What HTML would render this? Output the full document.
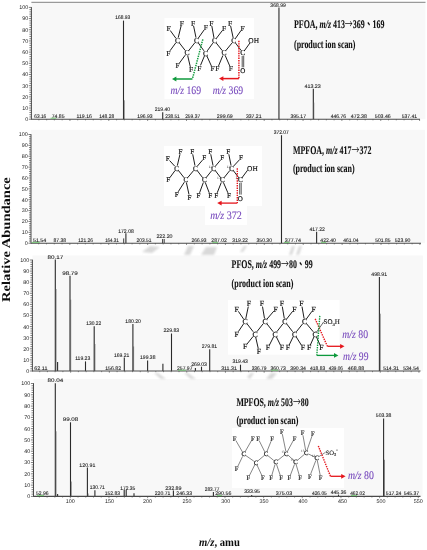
<!DOCTYPE html>
<html><head><meta charset="utf-8"><title>MS/MS product ion spectra</title>
<style>html,body{margin:0;padding:0;background:#fff;width:427px;height:550px;overflow:hidden}svg{display:block}</style>
</head><body>
<svg width="427" height="550" viewBox="0 0 427 550" text-rendering="geometricPrecision">
<rect x="0" y="0" width="427" height="550" fill="#ffffff"/>
<defs><filter id="soft" filterUnits="userSpaceOnUse" x="0" y="0" width="427" height="550"><feGaussianBlur stdDeviation="0.3"/></filter></defs>
<g filter="url(#soft)">
<rect x="31.4" y="2.3" width="394" height="116.9" fill="#f8f8f8"/>
<line x1="31.4" y1="2.4" x2="425.5" y2="2.4" stroke="#9a9a9a" stroke-width="1.2"/>
<rect x="164.5" y="18" width="89.5" height="81" fill="#ffffff"/>
<line x1="31.4" y1="7.1" x2="31.4" y2="119.7" stroke="#4a4a4a" stroke-width="1"/>
<line x1="28.8" y1="7.4" x2="31.4" y2="7.4" stroke="#4a4a4a" stroke-width="0.7"/>
<line x1="29.4" y1="9.64" x2="31.4" y2="9.64" stroke="#4a4a4a" stroke-width="0.7"/>
<line x1="29.4" y1="11.87" x2="31.4" y2="11.87" stroke="#4a4a4a" stroke-width="0.7"/>
<line x1="29.4" y1="14.11" x2="31.4" y2="14.11" stroke="#4a4a4a" stroke-width="0.7"/>
<line x1="29.4" y1="16.34" x2="31.4" y2="16.34" stroke="#4a4a4a" stroke-width="0.7"/>
<line x1="28.8" y1="18.58" x2="31.4" y2="18.58" stroke="#4a4a4a" stroke-width="0.7"/>
<line x1="29.4" y1="20.82" x2="31.4" y2="20.82" stroke="#4a4a4a" stroke-width="0.7"/>
<line x1="29.4" y1="23.05" x2="31.4" y2="23.05" stroke="#4a4a4a" stroke-width="0.7"/>
<line x1="29.4" y1="25.29" x2="31.4" y2="25.29" stroke="#4a4a4a" stroke-width="0.7"/>
<line x1="29.4" y1="27.52" x2="31.4" y2="27.52" stroke="#4a4a4a" stroke-width="0.7"/>
<line x1="28.8" y1="29.76" x2="31.4" y2="29.76" stroke="#4a4a4a" stroke-width="0.7"/>
<line x1="29.4" y1="32" x2="31.4" y2="32" stroke="#4a4a4a" stroke-width="0.7"/>
<line x1="29.4" y1="34.23" x2="31.4" y2="34.23" stroke="#4a4a4a" stroke-width="0.7"/>
<line x1="29.4" y1="36.47" x2="31.4" y2="36.47" stroke="#4a4a4a" stroke-width="0.7"/>
<line x1="29.4" y1="38.7" x2="31.4" y2="38.7" stroke="#4a4a4a" stroke-width="0.7"/>
<line x1="28.8" y1="40.94" x2="31.4" y2="40.94" stroke="#4a4a4a" stroke-width="0.7"/>
<line x1="29.4" y1="43.18" x2="31.4" y2="43.18" stroke="#4a4a4a" stroke-width="0.7"/>
<line x1="29.4" y1="45.41" x2="31.4" y2="45.41" stroke="#4a4a4a" stroke-width="0.7"/>
<line x1="29.4" y1="47.65" x2="31.4" y2="47.65" stroke="#4a4a4a" stroke-width="0.7"/>
<line x1="29.4" y1="49.88" x2="31.4" y2="49.88" stroke="#4a4a4a" stroke-width="0.7"/>
<line x1="28.8" y1="52.12" x2="31.4" y2="52.12" stroke="#4a4a4a" stroke-width="0.7"/>
<line x1="29.4" y1="54.36" x2="31.4" y2="54.36" stroke="#4a4a4a" stroke-width="0.7"/>
<line x1="29.4" y1="56.59" x2="31.4" y2="56.59" stroke="#4a4a4a" stroke-width="0.7"/>
<line x1="29.4" y1="58.83" x2="31.4" y2="58.83" stroke="#4a4a4a" stroke-width="0.7"/>
<line x1="29.4" y1="61.06" x2="31.4" y2="61.06" stroke="#4a4a4a" stroke-width="0.7"/>
<line x1="28.8" y1="63.3" x2="31.4" y2="63.3" stroke="#4a4a4a" stroke-width="0.7"/>
<line x1="29.4" y1="65.54" x2="31.4" y2="65.54" stroke="#4a4a4a" stroke-width="0.7"/>
<line x1="29.4" y1="67.77" x2="31.4" y2="67.77" stroke="#4a4a4a" stroke-width="0.7"/>
<line x1="29.4" y1="70.01" x2="31.4" y2="70.01" stroke="#4a4a4a" stroke-width="0.7"/>
<line x1="29.4" y1="72.24" x2="31.4" y2="72.24" stroke="#4a4a4a" stroke-width="0.7"/>
<line x1="28.8" y1="74.48" x2="31.4" y2="74.48" stroke="#4a4a4a" stroke-width="0.7"/>
<line x1="29.4" y1="76.72" x2="31.4" y2="76.72" stroke="#4a4a4a" stroke-width="0.7"/>
<line x1="29.4" y1="78.95" x2="31.4" y2="78.95" stroke="#4a4a4a" stroke-width="0.7"/>
<line x1="29.4" y1="81.19" x2="31.4" y2="81.19" stroke="#4a4a4a" stroke-width="0.7"/>
<line x1="29.4" y1="83.42" x2="31.4" y2="83.42" stroke="#4a4a4a" stroke-width="0.7"/>
<line x1="28.8" y1="85.66" x2="31.4" y2="85.66" stroke="#4a4a4a" stroke-width="0.7"/>
<line x1="29.4" y1="87.9" x2="31.4" y2="87.9" stroke="#4a4a4a" stroke-width="0.7"/>
<line x1="29.4" y1="90.13" x2="31.4" y2="90.13" stroke="#4a4a4a" stroke-width="0.7"/>
<line x1="29.4" y1="92.37" x2="31.4" y2="92.37" stroke="#4a4a4a" stroke-width="0.7"/>
<line x1="29.4" y1="94.6" x2="31.4" y2="94.6" stroke="#4a4a4a" stroke-width="0.7"/>
<line x1="28.8" y1="96.84" x2="31.4" y2="96.84" stroke="#4a4a4a" stroke-width="0.7"/>
<line x1="29.4" y1="99.08" x2="31.4" y2="99.08" stroke="#4a4a4a" stroke-width="0.7"/>
<line x1="29.4" y1="101.31" x2="31.4" y2="101.31" stroke="#4a4a4a" stroke-width="0.7"/>
<line x1="29.4" y1="103.55" x2="31.4" y2="103.55" stroke="#4a4a4a" stroke-width="0.7"/>
<line x1="29.4" y1="105.78" x2="31.4" y2="105.78" stroke="#4a4a4a" stroke-width="0.7"/>
<line x1="28.8" y1="108.02" x2="31.4" y2="108.02" stroke="#4a4a4a" stroke-width="0.7"/>
<line x1="29.4" y1="110.26" x2="31.4" y2="110.26" stroke="#4a4a4a" stroke-width="0.7"/>
<line x1="29.4" y1="112.49" x2="31.4" y2="112.49" stroke="#4a4a4a" stroke-width="0.7"/>
<line x1="29.4" y1="114.73" x2="31.4" y2="114.73" stroke="#4a4a4a" stroke-width="0.7"/>
<line x1="29.4" y1="116.96" x2="31.4" y2="116.96" stroke="#4a4a4a" stroke-width="0.7"/>
<line x1="28.8" y1="119.2" x2="31.4" y2="119.2" stroke="#4a4a4a" stroke-width="0.7"/>
<text x="28.2" y="9.3" font-size="5.4" font-family="'Liberation Sans', Arial, sans-serif" text-anchor="end" font-weight="normal" font-style="normal" fill="#222">100</text>
<text x="28.2" y="20.48" font-size="5.4" font-family="'Liberation Sans', Arial, sans-serif" text-anchor="end" font-weight="normal" font-style="normal" fill="#222">90</text>
<text x="28.2" y="31.66" font-size="5.4" font-family="'Liberation Sans', Arial, sans-serif" text-anchor="end" font-weight="normal" font-style="normal" fill="#222">80</text>
<text x="28.2" y="42.84" font-size="5.4" font-family="'Liberation Sans', Arial, sans-serif" text-anchor="end" font-weight="normal" font-style="normal" fill="#222">70</text>
<text x="28.2" y="54.02" font-size="5.4" font-family="'Liberation Sans', Arial, sans-serif" text-anchor="end" font-weight="normal" font-style="normal" fill="#222">60</text>
<text x="28.2" y="65.2" font-size="5.4" font-family="'Liberation Sans', Arial, sans-serif" text-anchor="end" font-weight="normal" font-style="normal" fill="#222">50</text>
<text x="28.2" y="76.38" font-size="5.4" font-family="'Liberation Sans', Arial, sans-serif" text-anchor="end" font-weight="normal" font-style="normal" fill="#222">40</text>
<text x="28.2" y="87.56" font-size="5.4" font-family="'Liberation Sans', Arial, sans-serif" text-anchor="end" font-weight="normal" font-style="normal" fill="#222">30</text>
<text x="28.2" y="98.74" font-size="5.4" font-family="'Liberation Sans', Arial, sans-serif" text-anchor="end" font-weight="normal" font-style="normal" fill="#222">20</text>
<text x="28.2" y="109.92" font-size="5.4" font-family="'Liberation Sans', Arial, sans-serif" text-anchor="end" font-weight="normal" font-style="normal" fill="#222">10</text>
<text x="28.2" y="121.1" font-size="5.4" font-family="'Liberation Sans', Arial, sans-serif" text-anchor="end" font-weight="normal" font-style="normal" fill="#222">0</text>
<line x1="123.5" y1="20.6" x2="123.5" y2="119.2" stroke="#2a2a2a" stroke-width="1.1"/>
<line x1="278.95" y1="7.4" x2="278.95" y2="119.2" stroke="#2a2a2a" stroke-width="1.1"/>
<line x1="313.32" y1="88.7" x2="313.32" y2="119.2" stroke="#2a2a2a" stroke-width="1.1"/>
<line x1="162.72" y1="112.2" x2="162.72" y2="119.2" stroke="#2a2a2a" stroke-width="1.1"/>
<line x1="124.2" y1="100.3" x2="124.2" y2="119.2" stroke="#555" stroke-width="0.7"/>
<line x1="313.92" y1="102.6" x2="313.92" y2="119.2" stroke="#666" stroke-width="0.5"/>
<line x1="31.4" y1="119.2" x2="420" y2="119.2" stroke="#4a4a4a" stroke-width="1.1"/>
<line x1="38.86" y1="119.2" x2="38.86" y2="120.4" stroke="#4a4a4a" stroke-width="0.6"/>
<line x1="46.63" y1="119.2" x2="46.63" y2="120.4" stroke="#4a4a4a" stroke-width="0.6"/>
<line x1="54.4" y1="119.2" x2="54.4" y2="120.4" stroke="#4a4a4a" stroke-width="0.6"/>
<line x1="62.17" y1="119.2" x2="62.17" y2="120.4" stroke="#4a4a4a" stroke-width="0.6"/>
<line x1="69.94" y1="119.2" x2="69.94" y2="121" stroke="#4a4a4a" stroke-width="0.6"/>
<line x1="77.71" y1="119.2" x2="77.71" y2="120.4" stroke="#4a4a4a" stroke-width="0.6"/>
<line x1="85.48" y1="119.2" x2="85.48" y2="120.4" stroke="#4a4a4a" stroke-width="0.6"/>
<line x1="93.25" y1="119.2" x2="93.25" y2="120.4" stroke="#4a4a4a" stroke-width="0.6"/>
<line x1="101.02" y1="119.2" x2="101.02" y2="120.4" stroke="#4a4a4a" stroke-width="0.6"/>
<line x1="108.79" y1="119.2" x2="108.79" y2="121" stroke="#4a4a4a" stroke-width="0.6"/>
<line x1="116.56" y1="119.2" x2="116.56" y2="120.4" stroke="#4a4a4a" stroke-width="0.6"/>
<line x1="124.33" y1="119.2" x2="124.33" y2="120.4" stroke="#4a4a4a" stroke-width="0.6"/>
<line x1="132.1" y1="119.2" x2="132.1" y2="120.4" stroke="#4a4a4a" stroke-width="0.6"/>
<line x1="139.87" y1="119.2" x2="139.87" y2="120.4" stroke="#4a4a4a" stroke-width="0.6"/>
<line x1="147.64" y1="119.2" x2="147.64" y2="121" stroke="#4a4a4a" stroke-width="0.6"/>
<line x1="155.41" y1="119.2" x2="155.41" y2="120.4" stroke="#4a4a4a" stroke-width="0.6"/>
<line x1="163.18" y1="119.2" x2="163.18" y2="120.4" stroke="#4a4a4a" stroke-width="0.6"/>
<line x1="170.95" y1="119.2" x2="170.95" y2="120.4" stroke="#4a4a4a" stroke-width="0.6"/>
<line x1="178.72" y1="119.2" x2="178.72" y2="120.4" stroke="#4a4a4a" stroke-width="0.6"/>
<line x1="186.49" y1="119.2" x2="186.49" y2="121" stroke="#4a4a4a" stroke-width="0.6"/>
<line x1="194.26" y1="119.2" x2="194.26" y2="120.4" stroke="#4a4a4a" stroke-width="0.6"/>
<line x1="202.03" y1="119.2" x2="202.03" y2="120.4" stroke="#4a4a4a" stroke-width="0.6"/>
<line x1="209.8" y1="119.2" x2="209.8" y2="120.4" stroke="#4a4a4a" stroke-width="0.6"/>
<line x1="217.57" y1="119.2" x2="217.57" y2="120.4" stroke="#4a4a4a" stroke-width="0.6"/>
<line x1="225.34" y1="119.2" x2="225.34" y2="121" stroke="#4a4a4a" stroke-width="0.6"/>
<line x1="233.11" y1="119.2" x2="233.11" y2="120.4" stroke="#4a4a4a" stroke-width="0.6"/>
<line x1="240.88" y1="119.2" x2="240.88" y2="120.4" stroke="#4a4a4a" stroke-width="0.6"/>
<line x1="248.65" y1="119.2" x2="248.65" y2="120.4" stroke="#4a4a4a" stroke-width="0.6"/>
<line x1="256.42" y1="119.2" x2="256.42" y2="120.4" stroke="#4a4a4a" stroke-width="0.6"/>
<line x1="264.19" y1="119.2" x2="264.19" y2="121" stroke="#4a4a4a" stroke-width="0.6"/>
<line x1="271.96" y1="119.2" x2="271.96" y2="120.4" stroke="#4a4a4a" stroke-width="0.6"/>
<line x1="279.73" y1="119.2" x2="279.73" y2="120.4" stroke="#4a4a4a" stroke-width="0.6"/>
<line x1="287.5" y1="119.2" x2="287.5" y2="120.4" stroke="#4a4a4a" stroke-width="0.6"/>
<line x1="295.27" y1="119.2" x2="295.27" y2="120.4" stroke="#4a4a4a" stroke-width="0.6"/>
<line x1="303.04" y1="119.2" x2="303.04" y2="121" stroke="#4a4a4a" stroke-width="0.6"/>
<line x1="310.81" y1="119.2" x2="310.81" y2="120.4" stroke="#4a4a4a" stroke-width="0.6"/>
<line x1="318.58" y1="119.2" x2="318.58" y2="120.4" stroke="#4a4a4a" stroke-width="0.6"/>
<line x1="326.35" y1="119.2" x2="326.35" y2="120.4" stroke="#4a4a4a" stroke-width="0.6"/>
<line x1="334.12" y1="119.2" x2="334.12" y2="120.4" stroke="#4a4a4a" stroke-width="0.6"/>
<line x1="341.89" y1="119.2" x2="341.89" y2="121" stroke="#4a4a4a" stroke-width="0.6"/>
<line x1="349.66" y1="119.2" x2="349.66" y2="120.4" stroke="#4a4a4a" stroke-width="0.6"/>
<line x1="357.43" y1="119.2" x2="357.43" y2="120.4" stroke="#4a4a4a" stroke-width="0.6"/>
<line x1="365.2" y1="119.2" x2="365.2" y2="120.4" stroke="#4a4a4a" stroke-width="0.6"/>
<line x1="372.97" y1="119.2" x2="372.97" y2="120.4" stroke="#4a4a4a" stroke-width="0.6"/>
<line x1="380.74" y1="119.2" x2="380.74" y2="121" stroke="#4a4a4a" stroke-width="0.6"/>
<line x1="388.51" y1="119.2" x2="388.51" y2="120.4" stroke="#4a4a4a" stroke-width="0.6"/>
<line x1="396.28" y1="119.2" x2="396.28" y2="120.4" stroke="#4a4a4a" stroke-width="0.6"/>
<line x1="404.05" y1="119.2" x2="404.05" y2="120.4" stroke="#4a4a4a" stroke-width="0.6"/>
<line x1="411.82" y1="119.2" x2="411.82" y2="120.4" stroke="#4a4a4a" stroke-width="0.6"/>
<line x1="419.59" y1="119.2" x2="419.59" y2="121" stroke="#4a4a4a" stroke-width="0.6"/>
<text x="40.3" y="117.75" font-size="5.2" font-family="'Liberation Sans', Arial, sans-serif" text-anchor="middle" font-weight="normal" font-style="normal" fill="#222" textLength="11.96" lengthAdjust="spacingAndGlyphs" stroke="#222" stroke-width="0.1">63.16</text>
<text x="58.1" y="117.75" font-size="5.2" font-family="'Liberation Sans', Arial, sans-serif" text-anchor="middle" font-weight="normal" font-style="normal" fill="#222" textLength="12.94" lengthAdjust="spacingAndGlyphs" stroke="#222" stroke-width="0.1">74.85</text>
<text x="84.2" y="117.75" font-size="5.2" font-family="'Liberation Sans', Arial, sans-serif" text-anchor="middle" font-weight="normal" font-style="normal" fill="#222" textLength="15.29" lengthAdjust="spacingAndGlyphs" stroke="#222" stroke-width="0.1">119.16</text>
<text x="106.65" y="117.75" font-size="5.2" font-family="'Liberation Sans', Arial, sans-serif" text-anchor="middle" font-weight="normal" font-style="normal" fill="#222" textLength="14.99" lengthAdjust="spacingAndGlyphs" stroke="#222" stroke-width="0.1">148.28</text>
<text x="144.85" y="117.75" font-size="5.2" font-family="'Liberation Sans', Arial, sans-serif" text-anchor="middle" font-weight="normal" font-style="normal" fill="#222" textLength="15.39" lengthAdjust="spacingAndGlyphs" stroke="#222" stroke-width="0.1">196.93</text>
<text x="172.5" y="117.75" font-size="5.2" font-family="'Liberation Sans', Arial, sans-serif" text-anchor="middle" font-weight="normal" font-style="normal" fill="#222" textLength="14.5" lengthAdjust="spacingAndGlyphs" stroke="#222" stroke-width="0.1">238.51</text>
<text x="192.65" y="117.75" font-size="5.2" font-family="'Liberation Sans', Arial, sans-serif" text-anchor="middle" font-weight="normal" font-style="normal" fill="#222" textLength="14.99" lengthAdjust="spacingAndGlyphs" stroke="#222" stroke-width="0.1">259.37</text>
<text x="224.8" y="117.75" font-size="5.2" font-family="'Liberation Sans', Arial, sans-serif" text-anchor="middle" font-weight="normal" font-style="normal" fill="#222" textLength="15.88" lengthAdjust="spacingAndGlyphs" stroke="#222" stroke-width="0.1">299.69</text>
<text x="253.75" y="117.75" font-size="5.2" font-family="'Liberation Sans', Arial, sans-serif" text-anchor="middle" font-weight="normal" font-style="normal" fill="#222" textLength="15.58" lengthAdjust="spacingAndGlyphs" stroke="#222" stroke-width="0.1">337.21</text>
<text x="298.25" y="117.75" font-size="5.2" font-family="'Liberation Sans', Arial, sans-serif" text-anchor="middle" font-weight="normal" font-style="normal" fill="#222" textLength="15.58" lengthAdjust="spacingAndGlyphs" stroke="#222" stroke-width="0.1">395.17</text>
<text x="338.4" y="117.75" font-size="5.2" font-family="'Liberation Sans', Arial, sans-serif" text-anchor="middle" font-weight="normal" font-style="normal" fill="#222" textLength="15.48" lengthAdjust="spacingAndGlyphs" stroke="#222" stroke-width="0.1">446.76</text>
<text x="358.85" y="117.75" font-size="5.2" font-family="'Liberation Sans', Arial, sans-serif" text-anchor="middle" font-weight="normal" font-style="normal" fill="#222" textLength="16.17" lengthAdjust="spacingAndGlyphs" stroke="#222" stroke-width="0.1">472.38</text>
<text x="382.75" y="117.75" font-size="5.2" font-family="'Liberation Sans', Arial, sans-serif" text-anchor="middle" font-weight="normal" font-style="normal" fill="#222" textLength="15.97" lengthAdjust="spacingAndGlyphs" stroke="#222" stroke-width="0.1">503.46</text>
<text x="409.35" y="117.75" font-size="5.2" font-family="'Liberation Sans', Arial, sans-serif" text-anchor="middle" font-weight="normal" font-style="normal" fill="#222" textLength="15.39" lengthAdjust="spacingAndGlyphs" stroke="#222" stroke-width="0.1">537.41</text>
<text x="162.45" y="111.15" font-size="5.2" font-family="'Liberation Sans', Arial, sans-serif" text-anchor="middle" font-weight="normal" font-style="normal" fill="#222" textLength="15.39" lengthAdjust="spacingAndGlyphs" stroke="#222" stroke-width="0.1">219.40</text>
<text x="122.8" y="18.85" font-size="5.2" font-family="'Liberation Sans', Arial, sans-serif" text-anchor="middle" font-weight="normal" font-style="normal" fill="#222" textLength="14.9" lengthAdjust="spacingAndGlyphs" stroke="#222" stroke-width="0.1">168.93</text>
<text x="278.05" y="6.55" font-size="5.2" font-family="'Liberation Sans', Arial, sans-serif" text-anchor="middle" font-weight="normal" font-style="normal" fill="#222" textLength="15.39" lengthAdjust="spacingAndGlyphs" stroke="#222" stroke-width="0.1">368.99</text>
<text x="312.65" y="87.75" font-size="5.2" font-family="'Liberation Sans', Arial, sans-serif" text-anchor="middle" font-weight="normal" font-style="normal" fill="#222" textLength="16.37" lengthAdjust="spacingAndGlyphs" stroke="#222" stroke-width="0.1">413.23</text>
<line x1="179.27" y1="42.79" x2="185.23" y2="50.51" stroke="#111" stroke-width="0.95"/>
<line x1="188.78" y1="50.52" x2="194.82" y2="42.78" stroke="#111" stroke-width="0.95"/>
<line x1="198.27" y1="42.86" x2="203.93" y2="50.84" stroke="#111" stroke-width="0.95"/>
<line x1="207.28" y1="50.85" x2="212.82" y2="43.15" stroke="#111" stroke-width="0.95"/>
<line x1="216.29" y1="43.06" x2="222.21" y2="50.54" stroke="#111" stroke-width="0.95"/>
<line x1="225.83" y1="50.56" x2="231.97" y2="43.04" stroke="#111" stroke-width="0.95"/>
<line x1="235.55" y1="43.1" x2="241.15" y2="50.5" stroke="#111" stroke-width="0.95"/>
<line x1="175.8" y1="38.16" x2="170.2" y2="30.44" stroke="#111" stroke-width="0.95"/>
<text x="168.5" y="30.68" font-size="7.6" font-family="'Liberation Serif', 'Times New Roman', serif" text-anchor="middle" font-weight="normal" font-style="normal" fill="#111" stroke="#111" stroke-width="0.18">F</text>
<line x1="178.19" y1="37.7" x2="181.11" y2="25.9" stroke="#111" stroke-width="0.95"/>
<text x="181.8" y="25.68" font-size="7.6" font-family="'Liberation Serif', 'Times New Roman', serif" text-anchor="middle" font-weight="normal" font-style="normal" fill="#111" stroke="#111" stroke-width="0.18">F</text>
<line x1="175.8" y1="42.83" x2="170" y2="50.77" stroke="#111" stroke-width="0.95"/>
<text x="168.3" y="55.68" font-size="7.6" font-family="'Liberation Serif', 'Times New Roman', serif" text-anchor="middle" font-weight="normal" font-style="normal" fill="#111" stroke="#111" stroke-width="0.18">F</text>
<line x1="185.28" y1="55.12" x2="179.42" y2="63.08" stroke="#111" stroke-width="0.95"/>
<text x="177.7" y="67.98" font-size="7.6" font-family="'Liberation Serif', 'Times New Roman', serif" text-anchor="middle" font-weight="normal" font-style="normal" fill="#111" stroke="#111" stroke-width="0.18">F</text>
<line x1="187.67" y1="55.61" x2="190.33" y2="66.89" stroke="#111" stroke-width="0.95"/>
<text x="191" y="72.28" font-size="7.6" font-family="'Liberation Serif', 'Times New Roman', serif" text-anchor="middle" font-weight="normal" font-style="normal" fill="#111" stroke="#111" stroke-width="0.18">F</text>
<line x1="196.01" y1="37.67" x2="193.59" y2="25.93" stroke="#111" stroke-width="0.95"/>
<text x="193" y="25.68" font-size="7.6" font-family="'Liberation Serif', 'Times New Roman', serif" text-anchor="middle" font-weight="normal" font-style="normal" fill="#111" stroke="#111" stroke-width="0.18">F</text>
<line x1="198.28" y1="38.15" x2="204.12" y2="29.95" stroke="#111" stroke-width="0.95"/>
<text x="205.8" y="30.18" font-size="7.6" font-family="'Liberation Serif', 'Times New Roman', serif" text-anchor="middle" font-weight="normal" font-style="normal" fill="#111" stroke="#111" stroke-width="0.18">F</text>
<line x1="204.48" y1="55.86" x2="200.52" y2="65.34" stroke="#111" stroke-width="0.95"/>
<text x="199.4" y="70.58" font-size="7.6" font-family="'Liberation Serif', 'Times New Roman', serif" text-anchor="middle" font-weight="normal" font-style="normal" fill="#111" stroke="#111" stroke-width="0.18">F</text>
<line x1="206.8" y1="55.83" x2="211.4" y2="65.97" stroke="#111" stroke-width="0.95"/>
<text x="212.6" y="71.18" font-size="7.6" font-family="'Liberation Serif', 'Times New Roman', serif" text-anchor="middle" font-weight="normal" font-style="normal" fill="#111" stroke="#111" stroke-width="0.18">F</text>
<line x1="213.99" y1="37.96" x2="211.81" y2="25.94" stroke="#111" stroke-width="0.95"/>
<text x="211.3" y="25.68" font-size="7.6" font-family="'Liberation Serif', 'Times New Roman', serif" text-anchor="middle" font-weight="normal" font-style="normal" fill="#111" stroke="#111" stroke-width="0.18">F</text>
<line x1="216.25" y1="38.5" x2="222.45" y2="30.4" stroke="#111" stroke-width="0.95"/>
<text x="224.2" y="30.68" font-size="7.6" font-family="'Liberation Serif', 'Times New Roman', serif" text-anchor="middle" font-weight="normal" font-style="normal" fill="#111" stroke="#111" stroke-width="0.18">F</text>
<line x1="222.89" y1="55.46" x2="218.51" y2="65.94" stroke="#111" stroke-width="0.95"/>
<text x="217.4" y="71.18" font-size="7.6" font-family="'Liberation Serif', 'Times New Roman', serif" text-anchor="middle" font-weight="normal" font-style="normal" fill="#111" stroke="#111" stroke-width="0.18">F</text>
<line x1="225.16" y1="55.45" x2="229.74" y2="65.95" stroke="#111" stroke-width="0.95"/>
<text x="230.9" y="71.18" font-size="7.6" font-family="'Liberation Serif', 'Times New Roman', serif" text-anchor="middle" font-weight="normal" font-style="normal" fill="#111" stroke="#111" stroke-width="0.18">F</text>
<line x1="233.19" y1="37.98" x2="230.61" y2="25.92" stroke="#111" stroke-width="0.95"/>
<text x="230" y="25.68" font-size="7.6" font-family="'Liberation Serif', 'Times New Roman', serif" text-anchor="middle" font-weight="normal" font-style="normal" fill="#111" stroke="#111" stroke-width="0.18">F</text>
<line x1="235.46" y1="38.43" x2="241.04" y2="30.47" stroke="#111" stroke-width="0.95"/>
<text x="242.7" y="30.68" font-size="7.6" font-family="'Liberation Serif', 'Times New Roman', serif" text-anchor="middle" font-weight="normal" font-style="normal" fill="#111" stroke="#111" stroke-width="0.18">F</text>
<text x="177.5" y="43.08" font-size="7.6" font-family="'Liberation Serif', 'Times New Roman', serif" text-anchor="middle" font-weight="normal" font-style="normal" fill="#111" stroke="#111" stroke-width="0.18">C</text>
<text x="187" y="55.38" font-size="7.6" font-family="'Liberation Serif', 'Times New Roman', serif" text-anchor="middle" font-weight="normal" font-style="normal" fill="#111" stroke="#111" stroke-width="0.18">C</text>
<text x="196.6" y="43.08" font-size="7.6" font-family="'Liberation Serif', 'Times New Roman', serif" text-anchor="middle" font-weight="normal" font-style="normal" fill="#111" stroke="#111" stroke-width="0.18">C</text>
<text x="205.6" y="55.78" font-size="7.6" font-family="'Liberation Serif', 'Times New Roman', serif" text-anchor="middle" font-weight="normal" font-style="normal" fill="#111" stroke="#111" stroke-width="0.18">C</text>
<text x="214.5" y="43.38" font-size="7.6" font-family="'Liberation Serif', 'Times New Roman', serif" text-anchor="middle" font-weight="normal" font-style="normal" fill="#111" stroke="#111" stroke-width="0.18">C</text>
<text x="224" y="55.38" font-size="7.6" font-family="'Liberation Serif', 'Times New Roman', serif" text-anchor="middle" font-weight="normal" font-style="normal" fill="#111" stroke="#111" stroke-width="0.18">C</text>
<text x="233.8" y="43.38" font-size="7.6" font-family="'Liberation Serif', 'Times New Roman', serif" text-anchor="middle" font-weight="normal" font-style="normal" fill="#111" stroke="#111" stroke-width="0.18">C</text>
<text x="242.9" y="55.38" font-size="7.6" font-family="'Liberation Serif', 'Times New Roman', serif" text-anchor="middle" font-weight="normal" font-style="normal" fill="#111" stroke="#111" stroke-width="0.18">C</text>
<line x1="244.18" y1="51.01" x2="250.1" y2="42.75" stroke="#111" stroke-width="0.95"/>
<text x="253.7" y="43.4" font-size="7.4" font-family="'Liberation Serif', 'Times New Roman', serif" text-anchor="middle" font-weight="normal" font-style="normal" fill="#111" stroke="#111" stroke-width="0.12">OH</text>
<line x1="242.2" y1="56" x2="242.2" y2="67.3" stroke="#111" stroke-width="0.7"/>
<line x1="243.7" y1="56" x2="243.7" y2="67.3" stroke="#111" stroke-width="0.7"/>
<text x="242.8" y="72.88" font-size="7" font-family="'Liberation Serif', 'Times New Roman', serif" text-anchor="middle" font-weight="normal" font-style="normal" fill="#111" stroke="#111" stroke-width="0.18">O</text>
<path d="M202.8 39.4 L192.4 79" fill="none" stroke="#109a3c" stroke-width="1.5" stroke-dasharray="1.4 1.0"/>
<line x1="192.4" y1="79" x2="175.52" y2="79" stroke="#109a3c" stroke-width="1.5"/>
<path d="M172 79 L176.4 76.58 L176.4 81.42 Z" fill="#109a3c"/>
<path d="M238.9 40.8 L238.9 78.6" fill="none" stroke="#e5161d" stroke-width="1.5" stroke-dasharray="1.4 1.0"/>
<line x1="238.9" y1="78.6" x2="222.52" y2="78.6" stroke="#e5161d" stroke-width="1.5"/>
<path d="M219 78.6 L223.4 76.18 L223.4 81.02 Z" fill="#e5161d"/>
<text x="170.5" y="94.3" font-size="11.5" font-family="'Liberation Serif', 'Times New Roman', serif" fill="#7648bc" stroke="#7648bc" stroke-width="0.1" textLength="30.5" lengthAdjust="spacingAndGlyphs"><tspan font-style="italic">m/z</tspan> 169</text>
<text x="212.7" y="94.3" font-size="11.5" font-family="'Liberation Serif', 'Times New Roman', serif" fill="#7648bc" stroke="#7648bc" stroke-width="0.1" textLength="30.4" lengthAdjust="spacingAndGlyphs"><tspan font-style="italic">m/z</tspan> 369</text>
<text x="294" y="28.3" font-size="11.6" font-family="'Liberation Serif', 'Noto Sans CJK TC', serif" font-weight="bold" fill="#111" stroke="#111" stroke-width="0.1" textLength="90.5" lengthAdjust="spacingAndGlyphs">PFOA, <tspan font-style="italic">m/z</tspan> 413<tspan font-family="'Noto Sans CJK SC', sans-serif" font-weight="normal" stroke-width="0">→</tspan>369、169</text>
<text x="294" y="47.5" font-size="11.4" font-family="'Liberation Serif', 'Times New Roman', serif" font-weight="bold" fill="#111" stroke="#111" stroke-width="0.1" textLength="61.4" lengthAdjust="spacingAndGlyphs">(product ion scan)</text>
<rect x="31" y="129.8" width="394" height="113.4" fill="#f8f8f8"/>
<rect x="164" y="146" width="98" height="60" fill="#ffffff"/>
<rect x="205" y="206" width="42" height="19" fill="#ffffff"/>
<line x1="31" y1="134.2" x2="31" y2="243.7" stroke="#4a4a4a" stroke-width="1"/>
<line x1="28.4" y1="134.5" x2="31" y2="134.5" stroke="#4a4a4a" stroke-width="0.7"/>
<line x1="29" y1="136.67" x2="31" y2="136.67" stroke="#4a4a4a" stroke-width="0.7"/>
<line x1="29" y1="138.85" x2="31" y2="138.85" stroke="#4a4a4a" stroke-width="0.7"/>
<line x1="29" y1="141.02" x2="31" y2="141.02" stroke="#4a4a4a" stroke-width="0.7"/>
<line x1="29" y1="143.2" x2="31" y2="143.2" stroke="#4a4a4a" stroke-width="0.7"/>
<line x1="28.4" y1="145.37" x2="31" y2="145.37" stroke="#4a4a4a" stroke-width="0.7"/>
<line x1="29" y1="147.54" x2="31" y2="147.54" stroke="#4a4a4a" stroke-width="0.7"/>
<line x1="29" y1="149.72" x2="31" y2="149.72" stroke="#4a4a4a" stroke-width="0.7"/>
<line x1="29" y1="151.89" x2="31" y2="151.89" stroke="#4a4a4a" stroke-width="0.7"/>
<line x1="29" y1="154.07" x2="31" y2="154.07" stroke="#4a4a4a" stroke-width="0.7"/>
<line x1="28.4" y1="156.24" x2="31" y2="156.24" stroke="#4a4a4a" stroke-width="0.7"/>
<line x1="29" y1="158.41" x2="31" y2="158.41" stroke="#4a4a4a" stroke-width="0.7"/>
<line x1="29" y1="160.59" x2="31" y2="160.59" stroke="#4a4a4a" stroke-width="0.7"/>
<line x1="29" y1="162.76" x2="31" y2="162.76" stroke="#4a4a4a" stroke-width="0.7"/>
<line x1="29" y1="164.94" x2="31" y2="164.94" stroke="#4a4a4a" stroke-width="0.7"/>
<line x1="28.4" y1="167.11" x2="31" y2="167.11" stroke="#4a4a4a" stroke-width="0.7"/>
<line x1="29" y1="169.28" x2="31" y2="169.28" stroke="#4a4a4a" stroke-width="0.7"/>
<line x1="29" y1="171.46" x2="31" y2="171.46" stroke="#4a4a4a" stroke-width="0.7"/>
<line x1="29" y1="173.63" x2="31" y2="173.63" stroke="#4a4a4a" stroke-width="0.7"/>
<line x1="29" y1="175.81" x2="31" y2="175.81" stroke="#4a4a4a" stroke-width="0.7"/>
<line x1="28.4" y1="177.98" x2="31" y2="177.98" stroke="#4a4a4a" stroke-width="0.7"/>
<line x1="29" y1="180.15" x2="31" y2="180.15" stroke="#4a4a4a" stroke-width="0.7"/>
<line x1="29" y1="182.33" x2="31" y2="182.33" stroke="#4a4a4a" stroke-width="0.7"/>
<line x1="29" y1="184.5" x2="31" y2="184.5" stroke="#4a4a4a" stroke-width="0.7"/>
<line x1="29" y1="186.68" x2="31" y2="186.68" stroke="#4a4a4a" stroke-width="0.7"/>
<line x1="28.4" y1="188.85" x2="31" y2="188.85" stroke="#4a4a4a" stroke-width="0.7"/>
<line x1="29" y1="191.02" x2="31" y2="191.02" stroke="#4a4a4a" stroke-width="0.7"/>
<line x1="29" y1="193.2" x2="31" y2="193.2" stroke="#4a4a4a" stroke-width="0.7"/>
<line x1="29" y1="195.37" x2="31" y2="195.37" stroke="#4a4a4a" stroke-width="0.7"/>
<line x1="29" y1="197.55" x2="31" y2="197.55" stroke="#4a4a4a" stroke-width="0.7"/>
<line x1="28.4" y1="199.72" x2="31" y2="199.72" stroke="#4a4a4a" stroke-width="0.7"/>
<line x1="29" y1="201.89" x2="31" y2="201.89" stroke="#4a4a4a" stroke-width="0.7"/>
<line x1="29" y1="204.07" x2="31" y2="204.07" stroke="#4a4a4a" stroke-width="0.7"/>
<line x1="29" y1="206.24" x2="31" y2="206.24" stroke="#4a4a4a" stroke-width="0.7"/>
<line x1="29" y1="208.42" x2="31" y2="208.42" stroke="#4a4a4a" stroke-width="0.7"/>
<line x1="28.4" y1="210.59" x2="31" y2="210.59" stroke="#4a4a4a" stroke-width="0.7"/>
<line x1="29" y1="212.76" x2="31" y2="212.76" stroke="#4a4a4a" stroke-width="0.7"/>
<line x1="29" y1="214.94" x2="31" y2="214.94" stroke="#4a4a4a" stroke-width="0.7"/>
<line x1="29" y1="217.11" x2="31" y2="217.11" stroke="#4a4a4a" stroke-width="0.7"/>
<line x1="29" y1="219.29" x2="31" y2="219.29" stroke="#4a4a4a" stroke-width="0.7"/>
<line x1="28.4" y1="221.46" x2="31" y2="221.46" stroke="#4a4a4a" stroke-width="0.7"/>
<line x1="29" y1="223.63" x2="31" y2="223.63" stroke="#4a4a4a" stroke-width="0.7"/>
<line x1="29" y1="225.81" x2="31" y2="225.81" stroke="#4a4a4a" stroke-width="0.7"/>
<line x1="29" y1="227.98" x2="31" y2="227.98" stroke="#4a4a4a" stroke-width="0.7"/>
<line x1="29" y1="230.16" x2="31" y2="230.16" stroke="#4a4a4a" stroke-width="0.7"/>
<line x1="28.4" y1="232.33" x2="31" y2="232.33" stroke="#4a4a4a" stroke-width="0.7"/>
<line x1="29" y1="234.5" x2="31" y2="234.5" stroke="#4a4a4a" stroke-width="0.7"/>
<line x1="29" y1="236.68" x2="31" y2="236.68" stroke="#4a4a4a" stroke-width="0.7"/>
<line x1="29" y1="238.85" x2="31" y2="238.85" stroke="#4a4a4a" stroke-width="0.7"/>
<line x1="29" y1="241.03" x2="31" y2="241.03" stroke="#4a4a4a" stroke-width="0.7"/>
<line x1="28.4" y1="243.2" x2="31" y2="243.2" stroke="#4a4a4a" stroke-width="0.7"/>
<text x="27.8" y="136.4" font-size="5.4" font-family="'Liberation Sans', Arial, sans-serif" text-anchor="end" font-weight="normal" font-style="normal" fill="#222">100</text>
<text x="27.8" y="147.27" font-size="5.4" font-family="'Liberation Sans', Arial, sans-serif" text-anchor="end" font-weight="normal" font-style="normal" fill="#222">90</text>
<text x="27.8" y="158.14" font-size="5.4" font-family="'Liberation Sans', Arial, sans-serif" text-anchor="end" font-weight="normal" font-style="normal" fill="#222">80</text>
<text x="27.8" y="169.01" font-size="5.4" font-family="'Liberation Sans', Arial, sans-serif" text-anchor="end" font-weight="normal" font-style="normal" fill="#222">70</text>
<text x="27.8" y="179.88" font-size="5.4" font-family="'Liberation Sans', Arial, sans-serif" text-anchor="end" font-weight="normal" font-style="normal" fill="#222">60</text>
<text x="27.8" y="190.75" font-size="5.4" font-family="'Liberation Sans', Arial, sans-serif" text-anchor="end" font-weight="normal" font-style="normal" fill="#222">50</text>
<text x="27.8" y="201.62" font-size="5.4" font-family="'Liberation Sans', Arial, sans-serif" text-anchor="end" font-weight="normal" font-style="normal" fill="#222">40</text>
<text x="27.8" y="212.49" font-size="5.4" font-family="'Liberation Sans', Arial, sans-serif" text-anchor="end" font-weight="normal" font-style="normal" fill="#222">30</text>
<text x="27.8" y="223.36" font-size="5.4" font-family="'Liberation Sans', Arial, sans-serif" text-anchor="end" font-weight="normal" font-style="normal" fill="#222">20</text>
<text x="27.8" y="234.23" font-size="5.4" font-family="'Liberation Sans', Arial, sans-serif" text-anchor="end" font-weight="normal" font-style="normal" fill="#222">10</text>
<text x="27.8" y="245.1" font-size="5.4" font-family="'Liberation Sans', Arial, sans-serif" text-anchor="end" font-weight="normal" font-style="normal" fill="#222">0</text>
<line x1="281.49" y1="135.2" x2="281.49" y2="243.2" stroke="#2a2a2a" stroke-width="1.1"/>
<line x1="125.9" y1="233.3" x2="125.9" y2="243.2" stroke="#2a2a2a" stroke-width="1.1"/>
<line x1="316.62" y1="231.7" x2="316.62" y2="243.2" stroke="#2a2a2a" stroke-width="1.1"/>
<line x1="123.7" y1="238.4" x2="123.7" y2="243.2" stroke="#2a2a2a" stroke-width="0.9"/>
<line x1="162.6" y1="239" x2="162.6" y2="243.2" stroke="#2a2a2a" stroke-width="0.9"/>
<line x1="164.2" y1="239" x2="164.2" y2="243.2" stroke="#2a2a2a" stroke-width="0.9"/>
<line x1="31" y1="243.2" x2="421" y2="243.2" stroke="#4a4a4a" stroke-width="1.1"/>
<line x1="38.7" y1="243.2" x2="38.7" y2="244.4" stroke="#4a4a4a" stroke-width="0.6"/>
<line x1="46.48" y1="243.2" x2="46.48" y2="244.4" stroke="#4a4a4a" stroke-width="0.6"/>
<line x1="54.26" y1="243.2" x2="54.26" y2="244.4" stroke="#4a4a4a" stroke-width="0.6"/>
<line x1="62.04" y1="243.2" x2="62.04" y2="244.4" stroke="#4a4a4a" stroke-width="0.6"/>
<line x1="69.82" y1="243.2" x2="69.82" y2="245" stroke="#4a4a4a" stroke-width="0.6"/>
<line x1="77.6" y1="243.2" x2="77.6" y2="244.4" stroke="#4a4a4a" stroke-width="0.6"/>
<line x1="85.38" y1="243.2" x2="85.38" y2="244.4" stroke="#4a4a4a" stroke-width="0.6"/>
<line x1="93.16" y1="243.2" x2="93.16" y2="244.4" stroke="#4a4a4a" stroke-width="0.6"/>
<line x1="100.94" y1="243.2" x2="100.94" y2="244.4" stroke="#4a4a4a" stroke-width="0.6"/>
<line x1="108.72" y1="243.2" x2="108.72" y2="245" stroke="#4a4a4a" stroke-width="0.6"/>
<line x1="116.5" y1="243.2" x2="116.5" y2="244.4" stroke="#4a4a4a" stroke-width="0.6"/>
<line x1="124.28" y1="243.2" x2="124.28" y2="244.4" stroke="#4a4a4a" stroke-width="0.6"/>
<line x1="132.06" y1="243.2" x2="132.06" y2="244.4" stroke="#4a4a4a" stroke-width="0.6"/>
<line x1="139.84" y1="243.2" x2="139.84" y2="244.4" stroke="#4a4a4a" stroke-width="0.6"/>
<line x1="147.62" y1="243.2" x2="147.62" y2="245" stroke="#4a4a4a" stroke-width="0.6"/>
<line x1="155.4" y1="243.2" x2="155.4" y2="244.4" stroke="#4a4a4a" stroke-width="0.6"/>
<line x1="163.18" y1="243.2" x2="163.18" y2="244.4" stroke="#4a4a4a" stroke-width="0.6"/>
<line x1="170.96" y1="243.2" x2="170.96" y2="244.4" stroke="#4a4a4a" stroke-width="0.6"/>
<line x1="178.74" y1="243.2" x2="178.74" y2="244.4" stroke="#4a4a4a" stroke-width="0.6"/>
<line x1="186.52" y1="243.2" x2="186.52" y2="245" stroke="#4a4a4a" stroke-width="0.6"/>
<line x1="194.3" y1="243.2" x2="194.3" y2="244.4" stroke="#4a4a4a" stroke-width="0.6"/>
<line x1="202.08" y1="243.2" x2="202.08" y2="244.4" stroke="#4a4a4a" stroke-width="0.6"/>
<line x1="209.86" y1="243.2" x2="209.86" y2="244.4" stroke="#4a4a4a" stroke-width="0.6"/>
<line x1="217.64" y1="243.2" x2="217.64" y2="244.4" stroke="#4a4a4a" stroke-width="0.6"/>
<line x1="225.42" y1="243.2" x2="225.42" y2="245" stroke="#4a4a4a" stroke-width="0.6"/>
<line x1="233.2" y1="243.2" x2="233.2" y2="244.4" stroke="#4a4a4a" stroke-width="0.6"/>
<line x1="240.98" y1="243.2" x2="240.98" y2="244.4" stroke="#4a4a4a" stroke-width="0.6"/>
<line x1="248.76" y1="243.2" x2="248.76" y2="244.4" stroke="#4a4a4a" stroke-width="0.6"/>
<line x1="256.54" y1="243.2" x2="256.54" y2="244.4" stroke="#4a4a4a" stroke-width="0.6"/>
<line x1="264.32" y1="243.2" x2="264.32" y2="245" stroke="#4a4a4a" stroke-width="0.6"/>
<line x1="272.1" y1="243.2" x2="272.1" y2="244.4" stroke="#4a4a4a" stroke-width="0.6"/>
<line x1="279.88" y1="243.2" x2="279.88" y2="244.4" stroke="#4a4a4a" stroke-width="0.6"/>
<line x1="287.66" y1="243.2" x2="287.66" y2="244.4" stroke="#4a4a4a" stroke-width="0.6"/>
<line x1="295.44" y1="243.2" x2="295.44" y2="244.4" stroke="#4a4a4a" stroke-width="0.6"/>
<line x1="303.22" y1="243.2" x2="303.22" y2="245" stroke="#4a4a4a" stroke-width="0.6"/>
<line x1="311" y1="243.2" x2="311" y2="244.4" stroke="#4a4a4a" stroke-width="0.6"/>
<line x1="318.78" y1="243.2" x2="318.78" y2="244.4" stroke="#4a4a4a" stroke-width="0.6"/>
<line x1="326.56" y1="243.2" x2="326.56" y2="244.4" stroke="#4a4a4a" stroke-width="0.6"/>
<line x1="334.34" y1="243.2" x2="334.34" y2="244.4" stroke="#4a4a4a" stroke-width="0.6"/>
<line x1="342.12" y1="243.2" x2="342.12" y2="245" stroke="#4a4a4a" stroke-width="0.6"/>
<line x1="349.9" y1="243.2" x2="349.9" y2="244.4" stroke="#4a4a4a" stroke-width="0.6"/>
<line x1="357.68" y1="243.2" x2="357.68" y2="244.4" stroke="#4a4a4a" stroke-width="0.6"/>
<line x1="365.46" y1="243.2" x2="365.46" y2="244.4" stroke="#4a4a4a" stroke-width="0.6"/>
<line x1="373.24" y1="243.2" x2="373.24" y2="244.4" stroke="#4a4a4a" stroke-width="0.6"/>
<line x1="381.02" y1="243.2" x2="381.02" y2="245" stroke="#4a4a4a" stroke-width="0.6"/>
<line x1="388.8" y1="243.2" x2="388.8" y2="244.4" stroke="#4a4a4a" stroke-width="0.6"/>
<line x1="396.58" y1="243.2" x2="396.58" y2="244.4" stroke="#4a4a4a" stroke-width="0.6"/>
<line x1="404.36" y1="243.2" x2="404.36" y2="244.4" stroke="#4a4a4a" stroke-width="0.6"/>
<line x1="412.14" y1="243.2" x2="412.14" y2="244.4" stroke="#4a4a4a" stroke-width="0.6"/>
<line x1="419.92" y1="243.2" x2="419.92" y2="245" stroke="#4a4a4a" stroke-width="0.6"/>
<text x="39.6" y="242.25" font-size="5.2" font-family="'Liberation Sans', Arial, sans-serif" text-anchor="middle" font-weight="normal" font-style="normal" fill="#222" textLength="13.33" lengthAdjust="spacingAndGlyphs" stroke="#222" stroke-width="0.1">51.54</text>
<text x="59.85" y="242.25" font-size="5.2" font-family="'Liberation Sans', Arial, sans-serif" text-anchor="middle" font-weight="normal" font-style="normal" fill="#222" textLength="12.64" lengthAdjust="spacingAndGlyphs" stroke="#222" stroke-width="0.1">87.38</text>
<text x="85.6" y="242.25" font-size="5.2" font-family="'Liberation Sans', Arial, sans-serif" text-anchor="middle" font-weight="normal" font-style="normal" fill="#222" textLength="14.9" lengthAdjust="spacingAndGlyphs" stroke="#222" stroke-width="0.1">121.26</text>
<text x="112" y="242.25" font-size="5.2" font-family="'Liberation Sans', Arial, sans-serif" text-anchor="middle" font-weight="normal" font-style="normal" fill="#222" textLength="13.72" lengthAdjust="spacingAndGlyphs" stroke="#222" stroke-width="0.1">164.31</text>
<text x="144" y="242.25" font-size="5.2" font-family="'Liberation Sans', Arial, sans-serif" text-anchor="middle" font-weight="normal" font-style="normal" fill="#222" textLength="14.9" lengthAdjust="spacingAndGlyphs" stroke="#222" stroke-width="0.1">203.51</text>
<text x="199" y="242.25" font-size="5.2" font-family="'Liberation Sans', Arial, sans-serif" text-anchor="middle" font-weight="normal" font-style="normal" fill="#222" textLength="14.9" lengthAdjust="spacingAndGlyphs" stroke="#222" stroke-width="0.1">266.93</text>
<text x="219.05" y="242.25" font-size="5.2" font-family="'Liberation Sans', Arial, sans-serif" text-anchor="middle" font-weight="normal" font-style="normal" fill="#222" textLength="15.39" lengthAdjust="spacingAndGlyphs" stroke="#222" stroke-width="0.1">287.02</text>
<text x="240.05" y="242.25" font-size="5.2" font-family="'Liberation Sans', Arial, sans-serif" text-anchor="middle" font-weight="normal" font-style="normal" fill="#222" textLength="15.39" lengthAdjust="spacingAndGlyphs" stroke="#222" stroke-width="0.1">319.22</text>
<text x="264.25" y="242.25" font-size="5.2" font-family="'Liberation Sans', Arial, sans-serif" text-anchor="middle" font-weight="normal" font-style="normal" fill="#222" textLength="15.39" lengthAdjust="spacingAndGlyphs" stroke="#222" stroke-width="0.1">350.30</text>
<text x="292.9" y="242.25" font-size="5.2" font-family="'Liberation Sans', Arial, sans-serif" text-anchor="middle" font-weight="normal" font-style="normal" fill="#222" textLength="16.46" lengthAdjust="spacingAndGlyphs" stroke="#222" stroke-width="0.1">377.74</text>
<text x="328.1" y="242.25" font-size="5.2" font-family="'Liberation Sans', Arial, sans-serif" text-anchor="middle" font-weight="normal" font-style="normal" fill="#222" textLength="15.48" lengthAdjust="spacingAndGlyphs" stroke="#222" stroke-width="0.1">422.40</text>
<text x="350.85" y="242.25" font-size="5.2" font-family="'Liberation Sans', Arial, sans-serif" text-anchor="middle" font-weight="normal" font-style="normal" fill="#222" textLength="15.19" lengthAdjust="spacingAndGlyphs" stroke="#222" stroke-width="0.1">461.04</text>
<text x="382.85" y="242.25" font-size="5.2" font-family="'Liberation Sans', Arial, sans-serif" text-anchor="middle" font-weight="normal" font-style="normal" fill="#222" textLength="15.39" lengthAdjust="spacingAndGlyphs" stroke="#222" stroke-width="0.1">501.85</text>
<text x="402.6" y="242.25" font-size="5.2" font-family="'Liberation Sans', Arial, sans-serif" text-anchor="middle" font-weight="normal" font-style="normal" fill="#222" textLength="15.68" lengthAdjust="spacingAndGlyphs" stroke="#222" stroke-width="0.1">523.90</text>
<text x="126" y="232.95" font-size="5.2" font-family="'Liberation Sans', Arial, sans-serif" text-anchor="middle" font-weight="normal" font-style="normal" fill="#222" textLength="15.68" lengthAdjust="spacingAndGlyphs" stroke="#222" stroke-width="0.1">172.08</text>
<text x="164.5" y="238.45" font-size="5.2" font-family="'Liberation Sans', Arial, sans-serif" text-anchor="middle" font-weight="normal" font-style="normal" fill="#222" textLength="16.07" lengthAdjust="spacingAndGlyphs" stroke="#222" stroke-width="0.1">222.20</text>
<text x="281.25" y="134.25" font-size="5.2" font-family="'Liberation Sans', Arial, sans-serif" text-anchor="middle" font-weight="normal" font-style="normal" fill="#222" textLength="15.19" lengthAdjust="spacingAndGlyphs" stroke="#222" stroke-width="0.1">372.07</text>
<text x="317.2" y="230.75" font-size="5.2" font-family="'Liberation Sans', Arial, sans-serif" text-anchor="middle" font-weight="normal" font-style="normal" fill="#222" textLength="15.48" lengthAdjust="spacingAndGlyphs" stroke="#222" stroke-width="0.1">417.22</text>
<line x1="178.39" y1="170.45" x2="184.11" y2="177.75" stroke="#111" stroke-width="0.95"/>
<line x1="187.56" y1="177.8" x2="193.74" y2="170.4" stroke="#111" stroke-width="0.95"/>
<line x1="197.15" y1="170.48" x2="202.65" y2="177.72" stroke="#111" stroke-width="0.95"/>
<line x1="206.01" y1="177.77" x2="211.89" y2="170.43" stroke="#111" stroke-width="0.95"/>
<line x1="215.24" y1="170.49" x2="220.66" y2="177.71" stroke="#111" stroke-width="0.95"/>
<line x1="224.01" y1="177.77" x2="229.89" y2="170.43" stroke="#111" stroke-width="0.95"/>
<line x1="233.25" y1="170.48" x2="238.75" y2="177.72" stroke="#111" stroke-width="0.95"/>
<line x1="174.85" y1="166.28" x2="169.55" y2="160.52" stroke="#111" stroke-width="0.95"/>
<text x="167.7" y="160.95" font-size="7.2" font-family="'Liberation Serif', 'Times New Roman', serif" text-anchor="middle" font-weight="normal" font-style="normal" fill="#111" stroke="#111" stroke-width="0.18">F</text>
<line x1="177.32" y1="165.64" x2="179.98" y2="154.26" stroke="#111" stroke-width="0.95"/>
<text x="180.6" y="154.05" font-size="7.2" font-family="'Liberation Serif', 'Times New Roman', serif" text-anchor="middle" font-weight="normal" font-style="normal" fill="#111" stroke="#111" stroke-width="0.18">F</text>
<line x1="175.08" y1="170.51" x2="169.82" y2="177.69" stroke="#111" stroke-width="0.95"/>
<text x="168.2" y="182.35" font-size="7.2" font-family="'Liberation Serif', 'Times New Roman', serif" text-anchor="middle" font-weight="normal" font-style="normal" fill="#111" stroke="#111" stroke-width="0.18">F</text>
<line x1="184.32" y1="182.2" x2="178.18" y2="191.8" stroke="#111" stroke-width="0.95"/>
<text x="176.7" y="196.55" font-size="7.2" font-family="'Liberation Serif', 'Times New Roman', serif" text-anchor="middle" font-weight="normal" font-style="normal" fill="#111" stroke="#111" stroke-width="0.18">F</text>
<line x1="186.39" y1="182.57" x2="189.01" y2="194.53" stroke="#111" stroke-width="0.95"/>
<text x="189.6" y="199.65" font-size="7.2" font-family="'Liberation Serif', 'Times New Roman', serif" text-anchor="middle" font-weight="normal" font-style="normal" fill="#111" stroke="#111" stroke-width="0.18">F</text>
<line x1="194.97" y1="165.62" x2="192.73" y2="154.28" stroke="#111" stroke-width="0.95"/>
<text x="192.2" y="154.05" font-size="7.2" font-family="'Liberation Serif', 'Times New Roman', serif" text-anchor="middle" font-weight="normal" font-style="normal" fill="#111" stroke="#111" stroke-width="0.18">F</text>
<line x1="197.28" y1="166.22" x2="202.52" y2="160.08" stroke="#111" stroke-width="0.95"/>
<text x="204.3" y="160.45" font-size="7.2" font-family="'Liberation Serif', 'Times New Roman', serif" text-anchor="middle" font-weight="normal" font-style="normal" fill="#111" stroke="#111" stroke-width="0.18">F</text>
<line x1="203.36" y1="182.47" x2="199.54" y2="192.83" stroke="#111" stroke-width="0.95"/>
<text x="198.6" y="197.85" font-size="7.2" font-family="'Liberation Serif', 'Times New Roman', serif" text-anchor="middle" font-weight="normal" font-style="normal" fill="#111" stroke="#111" stroke-width="0.18">F</text>
<line x1="205.27" y1="182.46" x2="209.23" y2="192.84" stroke="#111" stroke-width="0.95"/>
<text x="210.2" y="197.85" font-size="7.2" font-family="'Liberation Serif', 'Times New Roman', serif" text-anchor="middle" font-weight="normal" font-style="normal" fill="#111" stroke="#111" stroke-width="0.18">F</text>
<line x1="213.05" y1="165.62" x2="210.75" y2="154.28" stroke="#111" stroke-width="0.95"/>
<text x="210.2" y="154.05" font-size="7.2" font-family="'Liberation Serif', 'Times New Roman', serif" text-anchor="middle" font-weight="normal" font-style="normal" fill="#111" stroke="#111" stroke-width="0.18">F</text>
<line x1="215.37" y1="166.21" x2="220.53" y2="160.09" stroke="#111" stroke-width="0.95"/>
<text x="222.3" y="160.45" font-size="7.2" font-family="'Liberation Serif', 'Times New Roman', serif" text-anchor="middle" font-weight="normal" font-style="normal" fill="#111" stroke="#111" stroke-width="0.18">F</text>
<line x1="221.3" y1="182.45" x2="217.2" y2="192.85" stroke="#111" stroke-width="0.95"/>
<text x="216.2" y="197.85" font-size="7.2" font-family="'Liberation Serif', 'Times New Roman', serif" text-anchor="middle" font-weight="normal" font-style="normal" fill="#111" stroke="#111" stroke-width="0.18">F</text>
<line x1="223.39" y1="182.41" x2="227.91" y2="192.89" stroke="#111" stroke-width="0.95"/>
<text x="229" y="197.85" font-size="7.2" font-family="'Liberation Serif', 'Times New Roman', serif" text-anchor="middle" font-weight="normal" font-style="normal" fill="#111" stroke="#111" stroke-width="0.18">F</text>
<line x1="231.07" y1="165.62" x2="228.83" y2="154.28" stroke="#111" stroke-width="0.95"/>
<text x="228.3" y="154.05" font-size="7.2" font-family="'Liberation Serif', 'Times New Roman', serif" text-anchor="middle" font-weight="normal" font-style="normal" fill="#111" stroke="#111" stroke-width="0.18">F</text>
<line x1="233.45" y1="166.29" x2="239.25" y2="160.01" stroke="#111" stroke-width="0.95"/>
<text x="241.1" y="160.45" font-size="7.2" font-family="'Liberation Serif', 'Times New Roman', serif" text-anchor="middle" font-weight="normal" font-style="normal" fill="#111" stroke="#111" stroke-width="0.18">F</text>
<text x="176.7" y="170.75" font-size="7.2" font-family="'Liberation Serif', 'Times New Roman', serif" text-anchor="middle" font-weight="normal" font-style="normal" fill="#111" stroke="#111" stroke-width="0.18">C</text>
<text x="185.8" y="182.35" font-size="7.2" font-family="'Liberation Serif', 'Times New Roman', serif" text-anchor="middle" font-weight="normal" font-style="normal" fill="#111" stroke="#111" stroke-width="0.18">C</text>
<text x="195.5" y="170.75" font-size="7.2" font-family="'Liberation Serif', 'Times New Roman', serif" text-anchor="middle" font-weight="normal" font-style="normal" fill="#111" stroke="#111" stroke-width="0.18">C</text>
<text x="204.3" y="182.35" font-size="7.2" font-family="'Liberation Serif', 'Times New Roman', serif" text-anchor="middle" font-weight="normal" font-style="normal" fill="#111" stroke="#111" stroke-width="0.18">C</text>
<text x="213.6" y="170.75" font-size="7.2" font-family="'Liberation Serif', 'Times New Roman', serif" text-anchor="middle" font-weight="normal" font-style="normal" fill="#111" stroke="#111" stroke-width="0.18">C</text>
<text x="210.2" y="167.7" font-size="3.6" font-family="'Liberation Serif', 'Times New Roman', serif" text-anchor="middle" font-weight="normal" font-style="normal" fill="#111">13</text>
<text x="222.3" y="182.35" font-size="7.2" font-family="'Liberation Serif', 'Times New Roman', serif" text-anchor="middle" font-weight="normal" font-style="normal" fill="#111" stroke="#111" stroke-width="0.18">C</text>
<text x="218.9" y="179.3" font-size="3.6" font-family="'Liberation Serif', 'Times New Roman', serif" text-anchor="middle" font-weight="normal" font-style="normal" fill="#111">13</text>
<text x="231.6" y="170.75" font-size="7.2" font-family="'Liberation Serif', 'Times New Roman', serif" text-anchor="middle" font-weight="normal" font-style="normal" fill="#111" stroke="#111" stroke-width="0.18">C</text>
<text x="228.2" y="167.7" font-size="3.6" font-family="'Liberation Serif', 'Times New Roman', serif" text-anchor="middle" font-weight="normal" font-style="normal" fill="#111">13</text>
<text x="240.4" y="182.35" font-size="7.2" font-family="'Liberation Serif', 'Times New Roman', serif" text-anchor="middle" font-weight="normal" font-style="normal" fill="#111" stroke="#111" stroke-width="0.18">C</text>
<text x="237" y="179.3" font-size="3.6" font-family="'Liberation Serif', 'Times New Roman', serif" text-anchor="middle" font-weight="normal" font-style="normal" fill="#111">13</text>
<line x1="241.71" y1="178.13" x2="247.57" y2="170.23" stroke="#111" stroke-width="0.95"/>
<text x="252.4" y="171" font-size="7.4" font-family="'Liberation Serif', 'Times New Roman', serif" text-anchor="middle" font-weight="normal" font-style="normal" fill="#111" stroke="#111" stroke-width="0.12">OH</text>
<line x1="239.7" y1="183" x2="239.7" y2="194.6" stroke="#111" stroke-width="0.7"/>
<line x1="241.2" y1="183" x2="241.2" y2="194.6" stroke="#111" stroke-width="0.7"/>
<text x="240.4" y="200.78" font-size="7" font-family="'Liberation Serif', 'Times New Roman', serif" text-anchor="middle" font-weight="normal" font-style="normal" fill="#111" stroke="#111" stroke-width="0.18">O</text>
<path d="M237.3 168.3 L237.3 203.1" fill="none" stroke="#e5161d" stroke-width="1.4" stroke-dasharray="1.4 1.0"/>
<line x1="237.3" y1="203.1" x2="220.72" y2="203.1" stroke="#e5161d" stroke-width="1.3"/>
<path d="M217.2 203.1 L221.6 200.68 L221.6 205.52 Z" fill="#e5161d"/>
<text x="210.2" y="218.6" font-size="11.5" font-family="'Liberation Serif', 'Times New Roman', serif" fill="#7648bc" stroke="#7648bc" stroke-width="0.1" textLength="31.7" lengthAdjust="spacingAndGlyphs"><tspan font-style="italic">m/z</tspan> 372</text>
<text x="292.9" y="153.6" font-size="11.6" font-family="'Liberation Serif', 'Noto Sans CJK TC', serif" font-weight="bold" fill="#111" stroke="#111" stroke-width="0.1" textLength="78.5" lengthAdjust="spacingAndGlyphs">MPFOA, <tspan font-style="italic">m/z</tspan> 417<tspan font-family="'Noto Sans CJK SC', sans-serif" font-weight="normal" stroke-width="0">→</tspan>372</text>
<text x="292.9" y="171.7" font-size="11.4" font-family="'Liberation Serif', 'Times New Roman', serif" font-weight="bold" fill="#111" stroke="#111" stroke-width="0.1" textLength="61.8" lengthAdjust="spacingAndGlyphs">(product ion scan)</text>
<rect x="32.4" y="255.5" width="390.5" height="115.5" fill="#f8f8f8"/>
<rect x="228" y="300" width="111.5" height="54.7" fill="#ffffff"/>
<line x1="32.4" y1="259.7" x2="32.4" y2="371.5" stroke="#4a4a4a" stroke-width="1"/>
<line x1="29.8" y1="260" x2="32.4" y2="260" stroke="#4a4a4a" stroke-width="0.7"/>
<line x1="30.4" y1="262.22" x2="32.4" y2="262.22" stroke="#4a4a4a" stroke-width="0.7"/>
<line x1="30.4" y1="264.44" x2="32.4" y2="264.44" stroke="#4a4a4a" stroke-width="0.7"/>
<line x1="30.4" y1="266.66" x2="32.4" y2="266.66" stroke="#4a4a4a" stroke-width="0.7"/>
<line x1="30.4" y1="268.88" x2="32.4" y2="268.88" stroke="#4a4a4a" stroke-width="0.7"/>
<line x1="29.8" y1="271.1" x2="32.4" y2="271.1" stroke="#4a4a4a" stroke-width="0.7"/>
<line x1="30.4" y1="273.32" x2="32.4" y2="273.32" stroke="#4a4a4a" stroke-width="0.7"/>
<line x1="30.4" y1="275.54" x2="32.4" y2="275.54" stroke="#4a4a4a" stroke-width="0.7"/>
<line x1="30.4" y1="277.76" x2="32.4" y2="277.76" stroke="#4a4a4a" stroke-width="0.7"/>
<line x1="30.4" y1="279.98" x2="32.4" y2="279.98" stroke="#4a4a4a" stroke-width="0.7"/>
<line x1="29.8" y1="282.2" x2="32.4" y2="282.2" stroke="#4a4a4a" stroke-width="0.7"/>
<line x1="30.4" y1="284.42" x2="32.4" y2="284.42" stroke="#4a4a4a" stroke-width="0.7"/>
<line x1="30.4" y1="286.64" x2="32.4" y2="286.64" stroke="#4a4a4a" stroke-width="0.7"/>
<line x1="30.4" y1="288.86" x2="32.4" y2="288.86" stroke="#4a4a4a" stroke-width="0.7"/>
<line x1="30.4" y1="291.08" x2="32.4" y2="291.08" stroke="#4a4a4a" stroke-width="0.7"/>
<line x1="29.8" y1="293.3" x2="32.4" y2="293.3" stroke="#4a4a4a" stroke-width="0.7"/>
<line x1="30.4" y1="295.52" x2="32.4" y2="295.52" stroke="#4a4a4a" stroke-width="0.7"/>
<line x1="30.4" y1="297.74" x2="32.4" y2="297.74" stroke="#4a4a4a" stroke-width="0.7"/>
<line x1="30.4" y1="299.96" x2="32.4" y2="299.96" stroke="#4a4a4a" stroke-width="0.7"/>
<line x1="30.4" y1="302.18" x2="32.4" y2="302.18" stroke="#4a4a4a" stroke-width="0.7"/>
<line x1="29.8" y1="304.4" x2="32.4" y2="304.4" stroke="#4a4a4a" stroke-width="0.7"/>
<line x1="30.4" y1="306.62" x2="32.4" y2="306.62" stroke="#4a4a4a" stroke-width="0.7"/>
<line x1="30.4" y1="308.84" x2="32.4" y2="308.84" stroke="#4a4a4a" stroke-width="0.7"/>
<line x1="30.4" y1="311.06" x2="32.4" y2="311.06" stroke="#4a4a4a" stroke-width="0.7"/>
<line x1="30.4" y1="313.28" x2="32.4" y2="313.28" stroke="#4a4a4a" stroke-width="0.7"/>
<line x1="29.8" y1="315.5" x2="32.4" y2="315.5" stroke="#4a4a4a" stroke-width="0.7"/>
<line x1="30.4" y1="317.72" x2="32.4" y2="317.72" stroke="#4a4a4a" stroke-width="0.7"/>
<line x1="30.4" y1="319.94" x2="32.4" y2="319.94" stroke="#4a4a4a" stroke-width="0.7"/>
<line x1="30.4" y1="322.16" x2="32.4" y2="322.16" stroke="#4a4a4a" stroke-width="0.7"/>
<line x1="30.4" y1="324.38" x2="32.4" y2="324.38" stroke="#4a4a4a" stroke-width="0.7"/>
<line x1="29.8" y1="326.6" x2="32.4" y2="326.6" stroke="#4a4a4a" stroke-width="0.7"/>
<line x1="30.4" y1="328.82" x2="32.4" y2="328.82" stroke="#4a4a4a" stroke-width="0.7"/>
<line x1="30.4" y1="331.04" x2="32.4" y2="331.04" stroke="#4a4a4a" stroke-width="0.7"/>
<line x1="30.4" y1="333.26" x2="32.4" y2="333.26" stroke="#4a4a4a" stroke-width="0.7"/>
<line x1="30.4" y1="335.48" x2="32.4" y2="335.48" stroke="#4a4a4a" stroke-width="0.7"/>
<line x1="29.8" y1="337.7" x2="32.4" y2="337.7" stroke="#4a4a4a" stroke-width="0.7"/>
<line x1="30.4" y1="339.92" x2="32.4" y2="339.92" stroke="#4a4a4a" stroke-width="0.7"/>
<line x1="30.4" y1="342.14" x2="32.4" y2="342.14" stroke="#4a4a4a" stroke-width="0.7"/>
<line x1="30.4" y1="344.36" x2="32.4" y2="344.36" stroke="#4a4a4a" stroke-width="0.7"/>
<line x1="30.4" y1="346.58" x2="32.4" y2="346.58" stroke="#4a4a4a" stroke-width="0.7"/>
<line x1="29.8" y1="348.8" x2="32.4" y2="348.8" stroke="#4a4a4a" stroke-width="0.7"/>
<line x1="30.4" y1="351.02" x2="32.4" y2="351.02" stroke="#4a4a4a" stroke-width="0.7"/>
<line x1="30.4" y1="353.24" x2="32.4" y2="353.24" stroke="#4a4a4a" stroke-width="0.7"/>
<line x1="30.4" y1="355.46" x2="32.4" y2="355.46" stroke="#4a4a4a" stroke-width="0.7"/>
<line x1="30.4" y1="357.68" x2="32.4" y2="357.68" stroke="#4a4a4a" stroke-width="0.7"/>
<line x1="29.8" y1="359.9" x2="32.4" y2="359.9" stroke="#4a4a4a" stroke-width="0.7"/>
<line x1="30.4" y1="362.12" x2="32.4" y2="362.12" stroke="#4a4a4a" stroke-width="0.7"/>
<line x1="30.4" y1="364.34" x2="32.4" y2="364.34" stroke="#4a4a4a" stroke-width="0.7"/>
<line x1="30.4" y1="366.56" x2="32.4" y2="366.56" stroke="#4a4a4a" stroke-width="0.7"/>
<line x1="30.4" y1="368.78" x2="32.4" y2="368.78" stroke="#4a4a4a" stroke-width="0.7"/>
<line x1="29.8" y1="371" x2="32.4" y2="371" stroke="#4a4a4a" stroke-width="0.7"/>
<text x="29.2" y="261.9" font-size="5.4" font-family="'Liberation Sans', Arial, sans-serif" text-anchor="end" font-weight="normal" font-style="normal" fill="#222">100</text>
<text x="29.2" y="273" font-size="5.4" font-family="'Liberation Sans', Arial, sans-serif" text-anchor="end" font-weight="normal" font-style="normal" fill="#222">90</text>
<text x="29.2" y="284.1" font-size="5.4" font-family="'Liberation Sans', Arial, sans-serif" text-anchor="end" font-weight="normal" font-style="normal" fill="#222">80</text>
<text x="29.2" y="295.2" font-size="5.4" font-family="'Liberation Sans', Arial, sans-serif" text-anchor="end" font-weight="normal" font-style="normal" fill="#222">70</text>
<text x="29.2" y="306.3" font-size="5.4" font-family="'Liberation Sans', Arial, sans-serif" text-anchor="end" font-weight="normal" font-style="normal" fill="#222">60</text>
<text x="29.2" y="317.4" font-size="5.4" font-family="'Liberation Sans', Arial, sans-serif" text-anchor="end" font-weight="normal" font-style="normal" fill="#222">50</text>
<text x="29.2" y="328.5" font-size="5.4" font-family="'Liberation Sans', Arial, sans-serif" text-anchor="end" font-weight="normal" font-style="normal" fill="#222">40</text>
<text x="29.2" y="339.6" font-size="5.4" font-family="'Liberation Sans', Arial, sans-serif" text-anchor="end" font-weight="normal" font-style="normal" fill="#222">30</text>
<text x="29.2" y="350.7" font-size="5.4" font-family="'Liberation Sans', Arial, sans-serif" text-anchor="end" font-weight="normal" font-style="normal" fill="#222">20</text>
<text x="29.2" y="361.8" font-size="5.4" font-family="'Liberation Sans', Arial, sans-serif" text-anchor="end" font-weight="normal" font-style="normal" fill="#222">10</text>
<text x="29.2" y="372.9" font-size="5.4" font-family="'Liberation Sans', Arial, sans-serif" text-anchor="end" font-weight="normal" font-style="normal" fill="#222">0</text>
<line x1="55.3" y1="259.4" x2="55.3" y2="371" stroke="#2a2a2a" stroke-width="1.1"/>
<line x1="57.6" y1="362" x2="57.6" y2="371" stroke="#2a2a2a" stroke-width="1.1"/>
<line x1="70" y1="275.8" x2="70" y2="371" stroke="#2a2a2a" stroke-width="1.1"/>
<line x1="85.5" y1="361.4" x2="85.5" y2="371" stroke="#2a2a2a" stroke-width="1.1"/>
<line x1="94.2" y1="326.2" x2="94.2" y2="371" stroke="#2a2a2a" stroke-width="1.1"/>
<line x1="124.3" y1="357.4" x2="124.3" y2="371" stroke="#2a2a2a" stroke-width="1.1"/>
<line x1="132.9" y1="324.1" x2="132.9" y2="371" stroke="#2a2a2a" stroke-width="1.1"/>
<line x1="147.6" y1="360.4" x2="147.6" y2="371" stroke="#2a2a2a" stroke-width="1.1"/>
<line x1="162.9" y1="363.7" x2="162.9" y2="371" stroke="#2a2a2a" stroke-width="1.1"/>
<line x1="171.5" y1="333.5" x2="171.5" y2="371" stroke="#2a2a2a" stroke-width="1.1"/>
<line x1="195.4" y1="368" x2="195.4" y2="371" stroke="#2a2a2a" stroke-width="1.1"/>
<line x1="201.5" y1="366.7" x2="201.5" y2="371" stroke="#2a2a2a" stroke-width="1.1"/>
<line x1="209.7" y1="349.2" x2="209.7" y2="371" stroke="#2a2a2a" stroke-width="1.1"/>
<line x1="240.5" y1="364.7" x2="240.5" y2="371" stroke="#2a2a2a" stroke-width="1.1"/>
<line x1="379.4" y1="276.9" x2="379.4" y2="371" stroke="#2a2a2a" stroke-width="1.1"/>
<line x1="32.4" y1="371" x2="420.5" y2="371" stroke="#4a4a4a" stroke-width="1.1"/>
<line x1="39.69" y1="371" x2="39.69" y2="372.2" stroke="#4a4a4a" stroke-width="0.6"/>
<line x1="47.43" y1="371" x2="47.43" y2="372.2" stroke="#4a4a4a" stroke-width="0.6"/>
<line x1="55.17" y1="371" x2="55.17" y2="372.2" stroke="#4a4a4a" stroke-width="0.6"/>
<line x1="62.91" y1="371" x2="62.91" y2="372.2" stroke="#4a4a4a" stroke-width="0.6"/>
<line x1="70.65" y1="371" x2="70.65" y2="372.8" stroke="#4a4a4a" stroke-width="0.6"/>
<line x1="78.39" y1="371" x2="78.39" y2="372.2" stroke="#4a4a4a" stroke-width="0.6"/>
<line x1="86.13" y1="371" x2="86.13" y2="372.2" stroke="#4a4a4a" stroke-width="0.6"/>
<line x1="93.87" y1="371" x2="93.87" y2="372.2" stroke="#4a4a4a" stroke-width="0.6"/>
<line x1="101.61" y1="371" x2="101.61" y2="372.2" stroke="#4a4a4a" stroke-width="0.6"/>
<line x1="109.35" y1="371" x2="109.35" y2="372.8" stroke="#4a4a4a" stroke-width="0.6"/>
<line x1="117.09" y1="371" x2="117.09" y2="372.2" stroke="#4a4a4a" stroke-width="0.6"/>
<line x1="124.83" y1="371" x2="124.83" y2="372.2" stroke="#4a4a4a" stroke-width="0.6"/>
<line x1="132.57" y1="371" x2="132.57" y2="372.2" stroke="#4a4a4a" stroke-width="0.6"/>
<line x1="140.31" y1="371" x2="140.31" y2="372.2" stroke="#4a4a4a" stroke-width="0.6"/>
<line x1="148.05" y1="371" x2="148.05" y2="372.8" stroke="#4a4a4a" stroke-width="0.6"/>
<line x1="155.79" y1="371" x2="155.79" y2="372.2" stroke="#4a4a4a" stroke-width="0.6"/>
<line x1="163.53" y1="371" x2="163.53" y2="372.2" stroke="#4a4a4a" stroke-width="0.6"/>
<line x1="171.27" y1="371" x2="171.27" y2="372.2" stroke="#4a4a4a" stroke-width="0.6"/>
<line x1="179.01" y1="371" x2="179.01" y2="372.2" stroke="#4a4a4a" stroke-width="0.6"/>
<line x1="186.75" y1="371" x2="186.75" y2="372.8" stroke="#4a4a4a" stroke-width="0.6"/>
<line x1="194.49" y1="371" x2="194.49" y2="372.2" stroke="#4a4a4a" stroke-width="0.6"/>
<line x1="202.23" y1="371" x2="202.23" y2="372.2" stroke="#4a4a4a" stroke-width="0.6"/>
<line x1="209.97" y1="371" x2="209.97" y2="372.2" stroke="#4a4a4a" stroke-width="0.6"/>
<line x1="217.71" y1="371" x2="217.71" y2="372.2" stroke="#4a4a4a" stroke-width="0.6"/>
<line x1="225.45" y1="371" x2="225.45" y2="372.8" stroke="#4a4a4a" stroke-width="0.6"/>
<line x1="233.19" y1="371" x2="233.19" y2="372.2" stroke="#4a4a4a" stroke-width="0.6"/>
<line x1="240.93" y1="371" x2="240.93" y2="372.2" stroke="#4a4a4a" stroke-width="0.6"/>
<line x1="248.67" y1="371" x2="248.67" y2="372.2" stroke="#4a4a4a" stroke-width="0.6"/>
<line x1="256.41" y1="371" x2="256.41" y2="372.2" stroke="#4a4a4a" stroke-width="0.6"/>
<line x1="264.15" y1="371" x2="264.15" y2="372.8" stroke="#4a4a4a" stroke-width="0.6"/>
<line x1="271.89" y1="371" x2="271.89" y2="372.2" stroke="#4a4a4a" stroke-width="0.6"/>
<line x1="279.63" y1="371" x2="279.63" y2="372.2" stroke="#4a4a4a" stroke-width="0.6"/>
<line x1="287.37" y1="371" x2="287.37" y2="372.2" stroke="#4a4a4a" stroke-width="0.6"/>
<line x1="295.11" y1="371" x2="295.11" y2="372.2" stroke="#4a4a4a" stroke-width="0.6"/>
<line x1="302.85" y1="371" x2="302.85" y2="372.8" stroke="#4a4a4a" stroke-width="0.6"/>
<line x1="310.59" y1="371" x2="310.59" y2="372.2" stroke="#4a4a4a" stroke-width="0.6"/>
<line x1="318.33" y1="371" x2="318.33" y2="372.2" stroke="#4a4a4a" stroke-width="0.6"/>
<line x1="326.07" y1="371" x2="326.07" y2="372.2" stroke="#4a4a4a" stroke-width="0.6"/>
<line x1="333.81" y1="371" x2="333.81" y2="372.2" stroke="#4a4a4a" stroke-width="0.6"/>
<line x1="341.55" y1="371" x2="341.55" y2="372.8" stroke="#4a4a4a" stroke-width="0.6"/>
<line x1="349.29" y1="371" x2="349.29" y2="372.2" stroke="#4a4a4a" stroke-width="0.6"/>
<line x1="357.03" y1="371" x2="357.03" y2="372.2" stroke="#4a4a4a" stroke-width="0.6"/>
<line x1="364.77" y1="371" x2="364.77" y2="372.2" stroke="#4a4a4a" stroke-width="0.6"/>
<line x1="372.51" y1="371" x2="372.51" y2="372.2" stroke="#4a4a4a" stroke-width="0.6"/>
<line x1="380.25" y1="371" x2="380.25" y2="372.8" stroke="#4a4a4a" stroke-width="0.6"/>
<line x1="387.99" y1="371" x2="387.99" y2="372.2" stroke="#4a4a4a" stroke-width="0.6"/>
<line x1="395.73" y1="371" x2="395.73" y2="372.2" stroke="#4a4a4a" stroke-width="0.6"/>
<line x1="403.47" y1="371" x2="403.47" y2="372.2" stroke="#4a4a4a" stroke-width="0.6"/>
<line x1="411.21" y1="371" x2="411.21" y2="372.2" stroke="#4a4a4a" stroke-width="0.6"/>
<line x1="418.95" y1="371" x2="418.95" y2="372.8" stroke="#4a4a4a" stroke-width="0.6"/>
<text x="40.9" y="370.35" font-size="5.2" font-family="'Liberation Sans', Arial, sans-serif" text-anchor="middle" font-weight="normal" font-style="normal" fill="#222" textLength="13.13" lengthAdjust="spacingAndGlyphs" stroke="#222" stroke-width="0.1">62.11</text>
<text x="113.15" y="370.35" font-size="5.2" font-family="'Liberation Sans', Arial, sans-serif" text-anchor="middle" font-weight="normal" font-style="normal" fill="#222" textLength="15.97" lengthAdjust="spacingAndGlyphs" stroke="#222" stroke-width="0.1">156.82</text>
<text x="184.75" y="370.35" font-size="5.2" font-family="'Liberation Sans', Arial, sans-serif" text-anchor="middle" font-weight="normal" font-style="normal" fill="#222" textLength="15.39" lengthAdjust="spacingAndGlyphs" stroke="#222" stroke-width="0.1">257.97</text>
<text x="229" y="370.35" font-size="5.2" font-family="'Liberation Sans', Arial, sans-serif" text-anchor="middle" font-weight="normal" font-style="normal" fill="#222" textLength="15.68" lengthAdjust="spacingAndGlyphs" stroke="#222" stroke-width="0.1">311.31</text>
<text x="259.1" y="370.35" font-size="5.2" font-family="'Liberation Sans', Arial, sans-serif" text-anchor="middle" font-weight="normal" font-style="normal" fill="#222" textLength="14.9" lengthAdjust="spacingAndGlyphs" stroke="#222" stroke-width="0.1">336.79</text>
<text x="278.15" y="370.35" font-size="5.2" font-family="'Liberation Sans', Arial, sans-serif" text-anchor="middle" font-weight="normal" font-style="normal" fill="#222" textLength="15.39" lengthAdjust="spacingAndGlyphs" stroke="#222" stroke-width="0.1">360.73</text>
<text x="298" y="370.35" font-size="5.2" font-family="'Liberation Sans', Arial, sans-serif" text-anchor="middle" font-weight="normal" font-style="normal" fill="#222" textLength="15.68" lengthAdjust="spacingAndGlyphs" stroke="#222" stroke-width="0.1">390.34</text>
<text x="317.6" y="370.35" font-size="5.2" font-family="'Liberation Sans', Arial, sans-serif" text-anchor="middle" font-weight="normal" font-style="normal" fill="#222" textLength="15.09" lengthAdjust="spacingAndGlyphs" stroke="#222" stroke-width="0.1">418.83</text>
<text x="335.75" y="370.35" font-size="5.2" font-family="'Liberation Sans', Arial, sans-serif" text-anchor="middle" font-weight="normal" font-style="normal" fill="#222" textLength="14.21" lengthAdjust="spacingAndGlyphs" stroke="#222" stroke-width="0.1">439.06</text>
<text x="356.05" y="370.35" font-size="5.2" font-family="'Liberation Sans', Arial, sans-serif" text-anchor="middle" font-weight="normal" font-style="normal" fill="#222" textLength="16.37" lengthAdjust="spacingAndGlyphs" stroke="#222" stroke-width="0.1">468.88</text>
<text x="391" y="370.35" font-size="5.2" font-family="'Liberation Sans', Arial, sans-serif" text-anchor="middle" font-weight="normal" font-style="normal" fill="#222" textLength="15.68" lengthAdjust="spacingAndGlyphs" stroke="#222" stroke-width="0.1">514.31</text>
<text x="411" y="370.35" font-size="5.2" font-family="'Liberation Sans', Arial, sans-serif" text-anchor="middle" font-weight="normal" font-style="normal" fill="#222" textLength="15.68" lengthAdjust="spacingAndGlyphs" stroke="#222" stroke-width="0.1">534.54</text>
<text x="55.3" y="258.55" font-size="5.2" font-family="'Liberation Sans', Arial, sans-serif" text-anchor="middle" font-weight="normal" font-style="normal" fill="#222" textLength="15.68" lengthAdjust="spacingAndGlyphs" stroke="#222" stroke-width="0.1">80.17</text>
<text x="70" y="274.65" font-size="5.2" font-family="'Liberation Sans', Arial, sans-serif" text-anchor="middle" font-weight="normal" font-style="normal" fill="#222" textLength="15.68" lengthAdjust="spacingAndGlyphs" stroke="#222" stroke-width="0.1">98.79</text>
<text x="82.7" y="360.45" font-size="5.2" font-family="'Liberation Sans', Arial, sans-serif" text-anchor="middle" font-weight="normal" font-style="normal" fill="#222" textLength="15.09" lengthAdjust="spacingAndGlyphs" stroke="#222" stroke-width="0.1">119.23</text>
<text x="93.8" y="325.35" font-size="5.2" font-family="'Liberation Sans', Arial, sans-serif" text-anchor="middle" font-weight="normal" font-style="normal" fill="#222" textLength="14.9" lengthAdjust="spacingAndGlyphs" stroke="#222" stroke-width="0.1">130.22</text>
<text x="121.65" y="357.25" font-size="5.2" font-family="'Liberation Sans', Arial, sans-serif" text-anchor="middle" font-weight="normal" font-style="normal" fill="#222" textLength="15.39" lengthAdjust="spacingAndGlyphs" stroke="#222" stroke-width="0.1">169.21</text>
<text x="133.15" y="323.05" font-size="5.2" font-family="'Liberation Sans', Arial, sans-serif" text-anchor="middle" font-weight="normal" font-style="normal" fill="#222" textLength="15.58" lengthAdjust="spacingAndGlyphs" stroke="#222" stroke-width="0.1">180.20</text>
<text x="147.75" y="359.35" font-size="5.2" font-family="'Liberation Sans', Arial, sans-serif" text-anchor="middle" font-weight="normal" font-style="normal" fill="#222" textLength="15.39" lengthAdjust="spacingAndGlyphs" stroke="#222" stroke-width="0.1">199.38</text>
<text x="171.3" y="332.35" font-size="5.2" font-family="'Liberation Sans', Arial, sans-serif" text-anchor="middle" font-weight="normal" font-style="normal" fill="#222" textLength="15.68" lengthAdjust="spacingAndGlyphs" stroke="#222" stroke-width="0.1">229.83</text>
<text x="199.05" y="365.65" font-size="5.2" font-family="'Liberation Sans', Arial, sans-serif" text-anchor="middle" font-weight="normal" font-style="normal" fill="#222" textLength="15.78" lengthAdjust="spacingAndGlyphs" stroke="#222" stroke-width="0.1">269.03</text>
<text x="209.35" y="348.35" font-size="5.2" font-family="'Liberation Sans', Arial, sans-serif" text-anchor="middle" font-weight="normal" font-style="normal" fill="#222" textLength="15.39" lengthAdjust="spacingAndGlyphs" stroke="#222" stroke-width="0.1">279.81</text>
<text x="240.15" y="362.85" font-size="5.2" font-family="'Liberation Sans', Arial, sans-serif" text-anchor="middle" font-weight="normal" font-style="normal" fill="#222" textLength="15.39" lengthAdjust="spacingAndGlyphs" stroke="#222" stroke-width="0.1">319.43</text>
<text x="379.2" y="275.95" font-size="5.2" font-family="'Liberation Sans', Arial, sans-serif" text-anchor="middle" font-weight="normal" font-style="normal" fill="#222" textLength="15.68" lengthAdjust="spacingAndGlyphs" stroke="#222" stroke-width="0.1">498.91</text>
<line x1="247.01" y1="323.75" x2="253.19" y2="331.75" stroke="#111" stroke-width="0.95"/>
<line x1="256.83" y1="331.77" x2="263.17" y2="323.73" stroke="#111" stroke-width="0.95"/>
<line x1="266.83" y1="323.73" x2="273.17" y2="331.77" stroke="#111" stroke-width="0.95"/>
<line x1="276.81" y1="331.75" x2="282.99" y2="323.75" stroke="#111" stroke-width="0.95"/>
<line x1="286.6" y1="323.76" x2="292.7" y2="331.74" stroke="#111" stroke-width="0.95"/>
<line x1="296.34" y1="331.78" x2="302.76" y2="323.72" stroke="#111" stroke-width="0.95"/>
<line x1="306.5" y1="323.68" x2="313.3" y2="331.82" stroke="#111" stroke-width="0.95"/>
<line x1="243.53" y1="318.95" x2="238.37" y2="311.35" stroke="#111" stroke-width="0.95"/>
<text x="236.7" y="311.55" font-size="7.8" font-family="'Liberation Serif', 'Times New Roman', serif" text-anchor="middle" font-weight="normal" font-style="normal" fill="#111" stroke="#111" stroke-width="0.18">F</text>
<line x1="245.81" y1="318.5" x2="248.29" y2="306.6" stroke="#111" stroke-width="0.95"/>
<text x="248.9" y="306.35" font-size="7.8" font-family="'Liberation Serif', 'Times New Roman', serif" text-anchor="middle" font-weight="normal" font-style="normal" fill="#111" stroke="#111" stroke-width="0.18">F</text>
<line x1="243.55" y1="323.86" x2="238.35" y2="331.64" stroke="#111" stroke-width="0.95"/>
<text x="236.7" y="336.75" font-size="7.8" font-family="'Liberation Serif', 'Times New Roman', serif" text-anchor="middle" font-weight="normal" font-style="normal" fill="#111" stroke="#111" stroke-width="0.18">F</text>
<line x1="253.14" y1="336.41" x2="247.06" y2="343.99" stroke="#111" stroke-width="0.95"/>
<text x="245.2" y="348.95" font-size="7.8" font-family="'Liberation Serif', 'Times New Roman', serif" text-anchor="middle" font-weight="normal" font-style="normal" fill="#111" stroke="#111" stroke-width="0.18">F</text>
<line x1="255.65" y1="336.99" x2="258.25" y2="348.51" stroke="#111" stroke-width="0.95"/>
<text x="258.9" y="354.05" font-size="7.8" font-family="'Liberation Serif', 'Times New Roman', serif" text-anchor="middle" font-weight="normal" font-style="normal" fill="#111" stroke="#111" stroke-width="0.18">F</text>
<line x1="264.5" y1="318.48" x2="262.5" y2="306.62" stroke="#111" stroke-width="0.95"/>
<text x="262" y="306.35" font-size="7.8" font-family="'Liberation Serif', 'Times New Roman', serif" text-anchor="middle" font-weight="normal" font-style="normal" fill="#111" stroke="#111" stroke-width="0.18">F</text>
<line x1="266.93" y1="319.15" x2="273.77" y2="311.15" stroke="#111" stroke-width="0.95"/>
<text x="275.7" y="311.55" font-size="7.8" font-family="'Liberation Serif', 'Times New Roman', serif" text-anchor="middle" font-weight="normal" font-style="normal" fill="#111" stroke="#111" stroke-width="0.18">F</text>
<line x1="273.65" y1="336.74" x2="269.35" y2="345.16" stroke="#111" stroke-width="0.95"/>
<text x="268" y="350.45" font-size="7.8" font-family="'Liberation Serif', 'Times New Roman', serif" text-anchor="middle" font-weight="normal" font-style="normal" fill="#111" stroke="#111" stroke-width="0.18">F</text>
<line x1="276.32" y1="336.75" x2="280.48" y2="345.15" stroke="#111" stroke-width="0.95"/>
<text x="281.8" y="350.45" font-size="7.8" font-family="'Liberation Serif', 'Times New Roman', serif" text-anchor="middle" font-weight="normal" font-style="normal" fill="#111" stroke="#111" stroke-width="0.18">F</text>
<line x1="284.3" y1="318.48" x2="282.3" y2="306.62" stroke="#111" stroke-width="0.95"/>
<text x="281.8" y="306.35" font-size="7.8" font-family="'Liberation Serif', 'Times New Roman', serif" text-anchor="middle" font-weight="normal" font-style="normal" fill="#111" stroke="#111" stroke-width="0.18">F</text>
<line x1="286.62" y1="319.06" x2="292.68" y2="311.24" stroke="#111" stroke-width="0.95"/>
<text x="294.5" y="311.55" font-size="7.8" font-family="'Liberation Serif', 'Times New Roman', serif" text-anchor="middle" font-weight="normal" font-style="normal" fill="#111" stroke="#111" stroke-width="0.18">F</text>
<line x1="293.2" y1="336.76" x2="289.1" y2="345.14" stroke="#111" stroke-width="0.95"/>
<text x="287.8" y="350.45" font-size="7.8" font-family="'Liberation Serif', 'Times New Roman', serif" text-anchor="middle" font-weight="normal" font-style="normal" fill="#111" stroke="#111" stroke-width="0.18">F</text>
<line x1="296.06" y1="336.62" x2="301.44" y2="345.28" stroke="#111" stroke-width="0.95"/>
<text x="303" y="350.45" font-size="7.8" font-family="'Liberation Serif', 'Times New Roman', serif" text-anchor="middle" font-weight="normal" font-style="normal" fill="#111" stroke="#111" stroke-width="0.18">F</text>
<line x1="304.09" y1="318.48" x2="302.01" y2="306.62" stroke="#111" stroke-width="0.95"/>
<text x="301.5" y="306.35" font-size="7.8" font-family="'Liberation Serif', 'Times New Roman', serif" text-anchor="middle" font-weight="normal" font-style="normal" fill="#111" stroke="#111" stroke-width="0.18">F</text>
<line x1="306.34" y1="319" x2="311.96" y2="311.3" stroke="#111" stroke-width="0.95"/>
<text x="313.7" y="311.55" font-size="7.8" font-family="'Liberation Serif', 'Times New Roman', serif" text-anchor="middle" font-weight="normal" font-style="normal" fill="#111" stroke="#111" stroke-width="0.18">F</text>
<line x1="313.99" y1="336.81" x2="310.31" y2="345.09" stroke="#111" stroke-width="0.95"/>
<text x="309.1" y="350.45" font-size="7.8" font-family="'Liberation Serif', 'Times New Roman', serif" text-anchor="middle" font-weight="normal" font-style="normal" fill="#111" stroke="#111" stroke-width="0.18">F</text>
<line x1="316.41" y1="336.81" x2="320.09" y2="345.09" stroke="#111" stroke-width="0.95"/>
<text x="321.3" y="350.45" font-size="7.8" font-family="'Liberation Serif', 'Times New Roman', serif" text-anchor="middle" font-weight="normal" font-style="normal" fill="#111" stroke="#111" stroke-width="0.18">F</text>
<text x="245.2" y="324.05" font-size="7.8" font-family="'Liberation Serif', 'Times New Roman', serif" text-anchor="middle" font-weight="normal" font-style="normal" fill="#111" stroke="#111" stroke-width="0.18">C</text>
<text x="255" y="336.75" font-size="7.8" font-family="'Liberation Serif', 'Times New Roman', serif" text-anchor="middle" font-weight="normal" font-style="normal" fill="#111" stroke="#111" stroke-width="0.18">C</text>
<text x="265" y="324.05" font-size="7.8" font-family="'Liberation Serif', 'Times New Roman', serif" text-anchor="middle" font-weight="normal" font-style="normal" fill="#111" stroke="#111" stroke-width="0.18">C</text>
<text x="275" y="336.75" font-size="7.8" font-family="'Liberation Serif', 'Times New Roman', serif" text-anchor="middle" font-weight="normal" font-style="normal" fill="#111" stroke="#111" stroke-width="0.18">C</text>
<text x="284.8" y="324.05" font-size="7.8" font-family="'Liberation Serif', 'Times New Roman', serif" text-anchor="middle" font-weight="normal" font-style="normal" fill="#111" stroke="#111" stroke-width="0.18">C</text>
<text x="294.5" y="336.75" font-size="7.8" font-family="'Liberation Serif', 'Times New Roman', serif" text-anchor="middle" font-weight="normal" font-style="normal" fill="#111" stroke="#111" stroke-width="0.18">C</text>
<text x="304.6" y="324.05" font-size="7.8" font-family="'Liberation Serif', 'Times New Roman', serif" text-anchor="middle" font-weight="normal" font-style="normal" fill="#111" stroke="#111" stroke-width="0.18">C</text>
<text x="315.2" y="336.75" font-size="7.8" font-family="'Liberation Serif', 'Times New Roman', serif" text-anchor="middle" font-weight="normal" font-style="normal" fill="#111" stroke="#111" stroke-width="0.18">C</text>
<line x1="316.45" y1="332.29" x2="323.72" y2="321.81" stroke="#111" stroke-width="0.65"/>
<text x="323.6" y="324.0" font-size="7" font-family="'Liberation Serif', 'Times New Roman', serif" fill="#111" stroke="#111" stroke-width="0.12">SO<tspan font-size="4.6" dy="1.6">3</tspan><tspan dy="-1.6">H</tspan></text>
<path d="M315.2 318.9 L327.4 346.3" fill="none" stroke="#e5161d" stroke-width="1.4" stroke-dasharray="1.4 1.0"/>
<line x1="327.4" y1="346.3" x2="340.98" y2="346.3" stroke="#e5161d" stroke-width="1.3"/>
<path d="M344.5 346.3 L340.1 343.88 L340.1 348.72 Z" fill="#e5161d"/>
<path d="M319.8 315.9 L316.8 355.4" fill="none" stroke="#109a3c" stroke-width="1.4" stroke-dasharray="1.4 1.0"/>
<line x1="316.8" y1="355.4" x2="334.88" y2="355.4" stroke="#109a3c" stroke-width="1.3"/>
<path d="M338.4 355.4 L334 352.98 L334 357.82 Z" fill="#109a3c"/>
<text x="342.3" y="338.4" font-size="11.5" font-family="'Liberation Serif', 'Times New Roman', serif" fill="#7648bc" stroke="#7648bc" stroke-width="0.1" textLength="25.7" lengthAdjust="spacingAndGlyphs"><tspan font-style="italic">m/z</tspan> 80</text>
<text x="343.1" y="360.2" font-size="11.5" font-family="'Liberation Serif', 'Times New Roman', serif" fill="#7648bc" stroke="#7648bc" stroke-width="0.1" textLength="25.4" lengthAdjust="spacingAndGlyphs"><tspan font-style="italic">m/z</tspan> 99</text>
<text x="231.6" y="267.9" font-size="11.6" font-family="'Liberation Serif', 'Noto Sans CJK TC', serif" font-weight="bold" fill="#111" stroke="#111" stroke-width="0.1" textLength="81.1" lengthAdjust="spacingAndGlyphs">PFOS, <tspan font-style="italic">m/z</tspan> 499<tspan font-family="'Noto Sans CJK SC', sans-serif" font-weight="normal" stroke-width="0">→</tspan>80、99</text>
<text x="231.6" y="287.2" font-size="11.4" font-family="'Liberation Serif', 'Times New Roman', serif" font-weight="bold" fill="#111" stroke="#111" stroke-width="0.1" textLength="61.8" lengthAdjust="spacingAndGlyphs">(product ion scan)</text>
<rect x="33.5" y="379" width="389" height="117.4" fill="#f8f8f8"/>
<rect x="232" y="428" width="112" height="60" fill="#ffffff"/>
<line x1="33.5" y1="383.2" x2="33.5" y2="496.9" stroke="#4a4a4a" stroke-width="1"/>
<line x1="30.9" y1="383.5" x2="33.5" y2="383.5" stroke="#4a4a4a" stroke-width="0.7"/>
<line x1="31.5" y1="385.76" x2="33.5" y2="385.76" stroke="#4a4a4a" stroke-width="0.7"/>
<line x1="31.5" y1="388.02" x2="33.5" y2="388.02" stroke="#4a4a4a" stroke-width="0.7"/>
<line x1="31.5" y1="390.27" x2="33.5" y2="390.27" stroke="#4a4a4a" stroke-width="0.7"/>
<line x1="31.5" y1="392.53" x2="33.5" y2="392.53" stroke="#4a4a4a" stroke-width="0.7"/>
<line x1="30.9" y1="394.79" x2="33.5" y2="394.79" stroke="#4a4a4a" stroke-width="0.7"/>
<line x1="31.5" y1="397.05" x2="33.5" y2="397.05" stroke="#4a4a4a" stroke-width="0.7"/>
<line x1="31.5" y1="399.31" x2="33.5" y2="399.31" stroke="#4a4a4a" stroke-width="0.7"/>
<line x1="31.5" y1="401.56" x2="33.5" y2="401.56" stroke="#4a4a4a" stroke-width="0.7"/>
<line x1="31.5" y1="403.82" x2="33.5" y2="403.82" stroke="#4a4a4a" stroke-width="0.7"/>
<line x1="30.9" y1="406.08" x2="33.5" y2="406.08" stroke="#4a4a4a" stroke-width="0.7"/>
<line x1="31.5" y1="408.34" x2="33.5" y2="408.34" stroke="#4a4a4a" stroke-width="0.7"/>
<line x1="31.5" y1="410.6" x2="33.5" y2="410.6" stroke="#4a4a4a" stroke-width="0.7"/>
<line x1="31.5" y1="412.85" x2="33.5" y2="412.85" stroke="#4a4a4a" stroke-width="0.7"/>
<line x1="31.5" y1="415.11" x2="33.5" y2="415.11" stroke="#4a4a4a" stroke-width="0.7"/>
<line x1="30.9" y1="417.37" x2="33.5" y2="417.37" stroke="#4a4a4a" stroke-width="0.7"/>
<line x1="31.5" y1="419.63" x2="33.5" y2="419.63" stroke="#4a4a4a" stroke-width="0.7"/>
<line x1="31.5" y1="421.89" x2="33.5" y2="421.89" stroke="#4a4a4a" stroke-width="0.7"/>
<line x1="31.5" y1="424.14" x2="33.5" y2="424.14" stroke="#4a4a4a" stroke-width="0.7"/>
<line x1="31.5" y1="426.4" x2="33.5" y2="426.4" stroke="#4a4a4a" stroke-width="0.7"/>
<line x1="30.9" y1="428.66" x2="33.5" y2="428.66" stroke="#4a4a4a" stroke-width="0.7"/>
<line x1="31.5" y1="430.92" x2="33.5" y2="430.92" stroke="#4a4a4a" stroke-width="0.7"/>
<line x1="31.5" y1="433.18" x2="33.5" y2="433.18" stroke="#4a4a4a" stroke-width="0.7"/>
<line x1="31.5" y1="435.43" x2="33.5" y2="435.43" stroke="#4a4a4a" stroke-width="0.7"/>
<line x1="31.5" y1="437.69" x2="33.5" y2="437.69" stroke="#4a4a4a" stroke-width="0.7"/>
<line x1="30.9" y1="439.95" x2="33.5" y2="439.95" stroke="#4a4a4a" stroke-width="0.7"/>
<line x1="31.5" y1="442.21" x2="33.5" y2="442.21" stroke="#4a4a4a" stroke-width="0.7"/>
<line x1="31.5" y1="444.47" x2="33.5" y2="444.47" stroke="#4a4a4a" stroke-width="0.7"/>
<line x1="31.5" y1="446.72" x2="33.5" y2="446.72" stroke="#4a4a4a" stroke-width="0.7"/>
<line x1="31.5" y1="448.98" x2="33.5" y2="448.98" stroke="#4a4a4a" stroke-width="0.7"/>
<line x1="30.9" y1="451.24" x2="33.5" y2="451.24" stroke="#4a4a4a" stroke-width="0.7"/>
<line x1="31.5" y1="453.5" x2="33.5" y2="453.5" stroke="#4a4a4a" stroke-width="0.7"/>
<line x1="31.5" y1="455.76" x2="33.5" y2="455.76" stroke="#4a4a4a" stroke-width="0.7"/>
<line x1="31.5" y1="458.01" x2="33.5" y2="458.01" stroke="#4a4a4a" stroke-width="0.7"/>
<line x1="31.5" y1="460.27" x2="33.5" y2="460.27" stroke="#4a4a4a" stroke-width="0.7"/>
<line x1="30.9" y1="462.53" x2="33.5" y2="462.53" stroke="#4a4a4a" stroke-width="0.7"/>
<line x1="31.5" y1="464.79" x2="33.5" y2="464.79" stroke="#4a4a4a" stroke-width="0.7"/>
<line x1="31.5" y1="467.05" x2="33.5" y2="467.05" stroke="#4a4a4a" stroke-width="0.7"/>
<line x1="31.5" y1="469.3" x2="33.5" y2="469.3" stroke="#4a4a4a" stroke-width="0.7"/>
<line x1="31.5" y1="471.56" x2="33.5" y2="471.56" stroke="#4a4a4a" stroke-width="0.7"/>
<line x1="30.9" y1="473.82" x2="33.5" y2="473.82" stroke="#4a4a4a" stroke-width="0.7"/>
<line x1="31.5" y1="476.08" x2="33.5" y2="476.08" stroke="#4a4a4a" stroke-width="0.7"/>
<line x1="31.5" y1="478.34" x2="33.5" y2="478.34" stroke="#4a4a4a" stroke-width="0.7"/>
<line x1="31.5" y1="480.59" x2="33.5" y2="480.59" stroke="#4a4a4a" stroke-width="0.7"/>
<line x1="31.5" y1="482.85" x2="33.5" y2="482.85" stroke="#4a4a4a" stroke-width="0.7"/>
<line x1="30.9" y1="485.11" x2="33.5" y2="485.11" stroke="#4a4a4a" stroke-width="0.7"/>
<line x1="31.5" y1="487.37" x2="33.5" y2="487.37" stroke="#4a4a4a" stroke-width="0.7"/>
<line x1="31.5" y1="489.63" x2="33.5" y2="489.63" stroke="#4a4a4a" stroke-width="0.7"/>
<line x1="31.5" y1="491.88" x2="33.5" y2="491.88" stroke="#4a4a4a" stroke-width="0.7"/>
<line x1="31.5" y1="494.14" x2="33.5" y2="494.14" stroke="#4a4a4a" stroke-width="0.7"/>
<line x1="30.9" y1="496.4" x2="33.5" y2="496.4" stroke="#4a4a4a" stroke-width="0.7"/>
<text x="30.3" y="385.4" font-size="5.4" font-family="'Liberation Sans', Arial, sans-serif" text-anchor="end" font-weight="normal" font-style="normal" fill="#222">100</text>
<text x="30.3" y="396.69" font-size="5.4" font-family="'Liberation Sans', Arial, sans-serif" text-anchor="end" font-weight="normal" font-style="normal" fill="#222">90</text>
<text x="30.3" y="407.98" font-size="5.4" font-family="'Liberation Sans', Arial, sans-serif" text-anchor="end" font-weight="normal" font-style="normal" fill="#222">80</text>
<text x="30.3" y="419.27" font-size="5.4" font-family="'Liberation Sans', Arial, sans-serif" text-anchor="end" font-weight="normal" font-style="normal" fill="#222">70</text>
<text x="30.3" y="430.56" font-size="5.4" font-family="'Liberation Sans', Arial, sans-serif" text-anchor="end" font-weight="normal" font-style="normal" fill="#222">60</text>
<text x="30.3" y="441.85" font-size="5.4" font-family="'Liberation Sans', Arial, sans-serif" text-anchor="end" font-weight="normal" font-style="normal" fill="#222">50</text>
<text x="30.3" y="453.14" font-size="5.4" font-family="'Liberation Sans', Arial, sans-serif" text-anchor="end" font-weight="normal" font-style="normal" fill="#222">40</text>
<text x="30.3" y="464.43" font-size="5.4" font-family="'Liberation Sans', Arial, sans-serif" text-anchor="end" font-weight="normal" font-style="normal" fill="#222">30</text>
<text x="30.3" y="475.72" font-size="5.4" font-family="'Liberation Sans', Arial, sans-serif" text-anchor="end" font-weight="normal" font-style="normal" fill="#222">20</text>
<text x="30.3" y="487.01" font-size="5.4" font-family="'Liberation Sans', Arial, sans-serif" text-anchor="end" font-weight="normal" font-style="normal" fill="#222">10</text>
<text x="30.3" y="498.3" font-size="5.4" font-family="'Liberation Sans', Arial, sans-serif" text-anchor="end" font-weight="normal" font-style="normal" fill="#222">0</text>
<line x1="55.3" y1="383.2" x2="55.3" y2="496.4" stroke="#2a2a2a" stroke-width="1.1"/>
<line x1="57.6" y1="494" x2="57.6" y2="496.4" stroke="#2a2a2a" stroke-width="1.1"/>
<line x1="70.5" y1="422.3" x2="70.5" y2="496.4" stroke="#2a2a2a" stroke-width="1.1"/>
<line x1="87.4" y1="467.5" x2="87.4" y2="496.4" stroke="#2a2a2a" stroke-width="1.1"/>
<line x1="94.9" y1="490.2" x2="94.9" y2="496.4" stroke="#2a2a2a" stroke-width="1.1"/>
<line x1="124.2" y1="489.7" x2="124.2" y2="496.4" stroke="#2a2a2a" stroke-width="1.1"/>
<line x1="126.2" y1="489.7" x2="126.2" y2="496.4" stroke="#2a2a2a" stroke-width="1.1"/>
<line x1="134" y1="493.2" x2="134" y2="496.4" stroke="#2a2a2a" stroke-width="1.1"/>
<line x1="173.4" y1="490.6" x2="173.4" y2="496.4" stroke="#2a2a2a" stroke-width="1.1"/>
<line x1="213.4" y1="492" x2="213.4" y2="496.4" stroke="#2a2a2a" stroke-width="1.1"/>
<line x1="338.5" y1="494.6" x2="338.5" y2="496.4" stroke="#2a2a2a" stroke-width="1.1"/>
<line x1="251.7" y1="495" x2="251.7" y2="496.4" stroke="#2a2a2a" stroke-width="1.1"/>
<line x1="383.6" y1="418.6" x2="383.6" y2="496.4" stroke="#2a2a2a" stroke-width="1.1"/>
<line x1="33.5" y1="496.4" x2="420.5" y2="496.4" stroke="#4a4a4a" stroke-width="1.1"/>
<line x1="39.37" y1="496.4" x2="39.37" y2="497.6" stroke="#4a4a4a" stroke-width="0.6"/>
<line x1="47.1" y1="496.4" x2="47.1" y2="497.6" stroke="#4a4a4a" stroke-width="0.6"/>
<line x1="54.83" y1="496.4" x2="54.83" y2="497.6" stroke="#4a4a4a" stroke-width="0.6"/>
<line x1="62.57" y1="496.4" x2="62.57" y2="497.6" stroke="#4a4a4a" stroke-width="0.6"/>
<line x1="70.3" y1="496.4" x2="70.3" y2="498.2" stroke="#4a4a4a" stroke-width="0.6"/>
<line x1="78.03" y1="496.4" x2="78.03" y2="497.6" stroke="#4a4a4a" stroke-width="0.6"/>
<line x1="85.77" y1="496.4" x2="85.77" y2="497.6" stroke="#4a4a4a" stroke-width="0.6"/>
<line x1="93.5" y1="496.4" x2="93.5" y2="497.6" stroke="#4a4a4a" stroke-width="0.6"/>
<line x1="101.23" y1="496.4" x2="101.23" y2="497.6" stroke="#4a4a4a" stroke-width="0.6"/>
<line x1="108.97" y1="496.4" x2="108.97" y2="498.2" stroke="#4a4a4a" stroke-width="0.6"/>
<line x1="116.7" y1="496.4" x2="116.7" y2="497.6" stroke="#4a4a4a" stroke-width="0.6"/>
<line x1="124.43" y1="496.4" x2="124.43" y2="497.6" stroke="#4a4a4a" stroke-width="0.6"/>
<line x1="132.16" y1="496.4" x2="132.16" y2="497.6" stroke="#4a4a4a" stroke-width="0.6"/>
<line x1="139.9" y1="496.4" x2="139.9" y2="497.6" stroke="#4a4a4a" stroke-width="0.6"/>
<line x1="147.63" y1="496.4" x2="147.63" y2="498.2" stroke="#4a4a4a" stroke-width="0.6"/>
<line x1="155.36" y1="496.4" x2="155.36" y2="497.6" stroke="#4a4a4a" stroke-width="0.6"/>
<line x1="163.1" y1="496.4" x2="163.1" y2="497.6" stroke="#4a4a4a" stroke-width="0.6"/>
<line x1="170.83" y1="496.4" x2="170.83" y2="497.6" stroke="#4a4a4a" stroke-width="0.6"/>
<line x1="178.56" y1="496.4" x2="178.56" y2="497.6" stroke="#4a4a4a" stroke-width="0.6"/>
<line x1="186.3" y1="496.4" x2="186.3" y2="498.2" stroke="#4a4a4a" stroke-width="0.6"/>
<line x1="194.03" y1="496.4" x2="194.03" y2="497.6" stroke="#4a4a4a" stroke-width="0.6"/>
<line x1="201.76" y1="496.4" x2="201.76" y2="497.6" stroke="#4a4a4a" stroke-width="0.6"/>
<line x1="209.49" y1="496.4" x2="209.49" y2="497.6" stroke="#4a4a4a" stroke-width="0.6"/>
<line x1="217.23" y1="496.4" x2="217.23" y2="497.6" stroke="#4a4a4a" stroke-width="0.6"/>
<line x1="224.96" y1="496.4" x2="224.96" y2="498.2" stroke="#4a4a4a" stroke-width="0.6"/>
<line x1="232.69" y1="496.4" x2="232.69" y2="497.6" stroke="#4a4a4a" stroke-width="0.6"/>
<line x1="240.43" y1="496.4" x2="240.43" y2="497.6" stroke="#4a4a4a" stroke-width="0.6"/>
<line x1="248.16" y1="496.4" x2="248.16" y2="497.6" stroke="#4a4a4a" stroke-width="0.6"/>
<line x1="255.89" y1="496.4" x2="255.89" y2="497.6" stroke="#4a4a4a" stroke-width="0.6"/>
<line x1="263.62" y1="496.4" x2="263.62" y2="498.2" stroke="#4a4a4a" stroke-width="0.6"/>
<line x1="271.36" y1="496.4" x2="271.36" y2="497.6" stroke="#4a4a4a" stroke-width="0.6"/>
<line x1="279.09" y1="496.4" x2="279.09" y2="497.6" stroke="#4a4a4a" stroke-width="0.6"/>
<line x1="286.82" y1="496.4" x2="286.82" y2="497.6" stroke="#4a4a4a" stroke-width="0.6"/>
<line x1="294.56" y1="496.4" x2="294.56" y2="497.6" stroke="#4a4a4a" stroke-width="0.6"/>
<line x1="302.29" y1="496.4" x2="302.29" y2="498.2" stroke="#4a4a4a" stroke-width="0.6"/>
<line x1="310.02" y1="496.4" x2="310.02" y2="497.6" stroke="#4a4a4a" stroke-width="0.6"/>
<line x1="317.76" y1="496.4" x2="317.76" y2="497.6" stroke="#4a4a4a" stroke-width="0.6"/>
<line x1="325.49" y1="496.4" x2="325.49" y2="497.6" stroke="#4a4a4a" stroke-width="0.6"/>
<line x1="333.22" y1="496.4" x2="333.22" y2="497.6" stroke="#4a4a4a" stroke-width="0.6"/>
<line x1="340.95" y1="496.4" x2="340.95" y2="498.2" stroke="#4a4a4a" stroke-width="0.6"/>
<line x1="348.69" y1="496.4" x2="348.69" y2="497.6" stroke="#4a4a4a" stroke-width="0.6"/>
<line x1="356.42" y1="496.4" x2="356.42" y2="497.6" stroke="#4a4a4a" stroke-width="0.6"/>
<line x1="364.15" y1="496.4" x2="364.15" y2="497.6" stroke="#4a4a4a" stroke-width="0.6"/>
<line x1="371.89" y1="496.4" x2="371.89" y2="497.6" stroke="#4a4a4a" stroke-width="0.6"/>
<line x1="379.62" y1="496.4" x2="379.62" y2="498.2" stroke="#4a4a4a" stroke-width="0.6"/>
<line x1="387.35" y1="496.4" x2="387.35" y2="497.6" stroke="#4a4a4a" stroke-width="0.6"/>
<line x1="395.09" y1="496.4" x2="395.09" y2="497.6" stroke="#4a4a4a" stroke-width="0.6"/>
<line x1="402.82" y1="496.4" x2="402.82" y2="497.6" stroke="#4a4a4a" stroke-width="0.6"/>
<line x1="410.55" y1="496.4" x2="410.55" y2="497.6" stroke="#4a4a4a" stroke-width="0.6"/>
<line x1="418.29" y1="496.4" x2="418.29" y2="498.2" stroke="#4a4a4a" stroke-width="0.6"/>
<text x="42.3" y="495.25" font-size="5.2" font-family="'Liberation Sans', Arial, sans-serif" text-anchor="middle" font-weight="normal" font-style="normal" fill="#222" textLength="12.54" lengthAdjust="spacingAndGlyphs" stroke="#222" stroke-width="0.1">52.96</text>
<text x="112.35" y="495.25" font-size="5.2" font-family="'Liberation Sans', Arial, sans-serif" text-anchor="middle" font-weight="normal" font-style="normal" fill="#222" textLength="15.39" lengthAdjust="spacingAndGlyphs" stroke="#222" stroke-width="0.1">152.83</text>
<text x="162.6" y="495.25" font-size="5.2" font-family="'Liberation Sans', Arial, sans-serif" text-anchor="middle" font-weight="normal" font-style="normal" fill="#222" textLength="15.68" lengthAdjust="spacingAndGlyphs" stroke="#222" stroke-width="0.1">220.71</text>
<text x="184.2" y="495.25" font-size="5.2" font-family="'Liberation Sans', Arial, sans-serif" text-anchor="middle" font-weight="normal" font-style="normal" fill="#222" textLength="15.68" lengthAdjust="spacingAndGlyphs" stroke="#222" stroke-width="0.1">246.33</text>
<text x="223.25" y="495.25" font-size="5.2" font-family="'Liberation Sans', Arial, sans-serif" text-anchor="middle" font-weight="normal" font-style="normal" fill="#222" textLength="16.17" lengthAdjust="spacingAndGlyphs" stroke="#222" stroke-width="0.1">290.56</text>
<text x="252.1" y="493.15" font-size="5.2" font-family="'Liberation Sans', Arial, sans-serif" text-anchor="middle" font-weight="normal" font-style="normal" fill="#222" textLength="15.68" lengthAdjust="spacingAndGlyphs" stroke="#222" stroke-width="0.1">333.95</text>
<text x="284.05" y="494.95" font-size="5.2" font-family="'Liberation Sans', Arial, sans-serif" text-anchor="middle" font-weight="normal" font-style="normal" fill="#222" textLength="16.56" lengthAdjust="spacingAndGlyphs" stroke="#222" stroke-width="0.1">375.03</text>
<text x="319.4" y="495.15" font-size="5.2" font-family="'Liberation Sans', Arial, sans-serif" text-anchor="middle" font-weight="normal" font-style="normal" fill="#222" textLength="14.9" lengthAdjust="spacingAndGlyphs" stroke="#222" stroke-width="0.1">426.05</text>
<text x="338.5" y="494.35" font-size="5.2" font-family="'Liberation Sans', Arial, sans-serif" text-anchor="middle" font-weight="normal" font-style="normal" fill="#222" textLength="15.68" lengthAdjust="spacingAndGlyphs" stroke="#222" stroke-width="0.1">445.36</text>
<text x="357.5" y="495.15" font-size="5.2" font-family="'Liberation Sans', Arial, sans-serif" text-anchor="middle" font-weight="normal" font-style="normal" fill="#222" textLength="14.7" lengthAdjust="spacingAndGlyphs" stroke="#222" stroke-width="0.1">462.02</text>
<text x="393.6" y="495.25" font-size="5.2" font-family="'Liberation Sans', Arial, sans-serif" text-anchor="middle" font-weight="normal" font-style="normal" fill="#222" textLength="15.48" lengthAdjust="spacingAndGlyphs" stroke="#222" stroke-width="0.1">517.24</text>
<text x="411.4" y="495.25" font-size="5.2" font-family="'Liberation Sans', Arial, sans-serif" text-anchor="middle" font-weight="normal" font-style="normal" fill="#222" textLength="15.48" lengthAdjust="spacingAndGlyphs" stroke="#222" stroke-width="0.1">545.37</text>
<text x="55.3" y="382.15" font-size="5.2" font-family="'Liberation Sans', Arial, sans-serif" text-anchor="middle" font-weight="normal" font-style="normal" fill="#222" textLength="15.68" lengthAdjust="spacingAndGlyphs" stroke="#222" stroke-width="0.1">80.04</text>
<text x="70.5" y="420.95" font-size="5.2" font-family="'Liberation Sans', Arial, sans-serif" text-anchor="middle" font-weight="normal" font-style="normal" fill="#222" textLength="15.68" lengthAdjust="spacingAndGlyphs" stroke="#222" stroke-width="0.1">99.08</text>
<text x="87.4" y="466.65" font-size="5.2" font-family="'Liberation Sans', Arial, sans-serif" text-anchor="middle" font-weight="normal" font-style="normal" fill="#222" textLength="16.07" lengthAdjust="spacingAndGlyphs" stroke="#222" stroke-width="0.1">120.91</text>
<text x="97.35" y="489.35" font-size="5.2" font-family="'Liberation Sans', Arial, sans-serif" text-anchor="middle" font-weight="normal" font-style="normal" fill="#222" textLength="14.99" lengthAdjust="spacingAndGlyphs" stroke="#222" stroke-width="0.1">130.71</text>
<text x="127.75" y="489.95" font-size="5.2" font-family="'Liberation Sans', Arial, sans-serif" text-anchor="middle" font-weight="normal" font-style="normal" fill="#222" textLength="15.19" lengthAdjust="spacingAndGlyphs" stroke="#222" stroke-width="0.1">172.35</text>
<text x="173.4" y="489.75" font-size="5.2" font-family="'Liberation Sans', Arial, sans-serif" text-anchor="middle" font-weight="normal" font-style="normal" fill="#222" textLength="16.46" lengthAdjust="spacingAndGlyphs" stroke="#222" stroke-width="0.1">232.89</text>
<text x="212.1" y="491.15" font-size="5.2" font-family="'Liberation Sans', Arial, sans-serif" text-anchor="middle" font-weight="normal" font-style="normal" fill="#222" textLength="14.5" lengthAdjust="spacingAndGlyphs" stroke="#222" stroke-width="0.1">283.77</text>
<text x="383.65" y="417.35" font-size="5.2" font-family="'Liberation Sans', Arial, sans-serif" text-anchor="middle" font-weight="normal" font-style="normal" fill="#222" textLength="15.58" lengthAdjust="spacingAndGlyphs" stroke="#222" stroke-width="0.1">503.38</text>
<text x="70.3" y="503" font-size="5.4" font-family="'Liberation Sans', Arial, sans-serif" text-anchor="middle" font-weight="normal" font-style="normal" fill="#222">100</text>
<text x="109.6" y="503" font-size="5.4" font-family="'Liberation Sans', Arial, sans-serif" text-anchor="middle" font-weight="normal" font-style="normal" fill="#222">150</text>
<text x="147.6" y="503" font-size="5.4" font-family="'Liberation Sans', Arial, sans-serif" text-anchor="middle" font-weight="normal" font-style="normal" fill="#222">200</text>
<text x="186.9" y="503" font-size="5.4" font-family="'Liberation Sans', Arial, sans-serif" text-anchor="middle" font-weight="normal" font-style="normal" fill="#222">250</text>
<text x="225.8" y="503" font-size="5.4" font-family="'Liberation Sans', Arial, sans-serif" text-anchor="middle" font-weight="normal" font-style="normal" fill="#222">300</text>
<text x="264" y="503" font-size="5.4" font-family="'Liberation Sans', Arial, sans-serif" text-anchor="middle" font-weight="normal" font-style="normal" fill="#222">350</text>
<text x="303" y="503" font-size="5.4" font-family="'Liberation Sans', Arial, sans-serif" text-anchor="middle" font-weight="normal" font-style="normal" fill="#222">400</text>
<text x="342.4" y="503" font-size="5.4" font-family="'Liberation Sans', Arial, sans-serif" text-anchor="middle" font-weight="normal" font-style="normal" fill="#222">450</text>
<text x="380.9" y="503" font-size="5.4" font-family="'Liberation Sans', Arial, sans-serif" text-anchor="middle" font-weight="normal" font-style="normal" fill="#222">500</text>
<text x="418.3" y="503" font-size="5.4" font-family="'Liberation Sans', Arial, sans-serif" text-anchor="middle" font-weight="normal" font-style="normal" fill="#222">550</text>
<line x1="245.76" y1="455.53" x2="253.84" y2="461.17" stroke="#444" stroke-width="0.65"/>
<line x1="257.81" y1="460.98" x2="263.99" y2="455.72" stroke="#444" stroke-width="0.65"/>
<line x1="267.85" y1="455.67" x2="273.75" y2="460.43" stroke="#444" stroke-width="0.65"/>
<line x1="277.66" y1="460.43" x2="284.34" y2="455.07" stroke="#444" stroke-width="0.65"/>
<line x1="288.13" y1="455.21" x2="293.57" y2="460.29" stroke="#444" stroke-width="0.65"/>
<line x1="297.31" y1="460.38" x2="304.19" y2="454.52" stroke="#444" stroke-width="0.65"/>
<line x1="308.36" y1="453.98" x2="314.54" y2="456.92" stroke="#444" stroke-width="0.65"/>
<line x1="242.45" y1="451.93" x2="235.85" y2="440.47" stroke="#444" stroke-width="0.65"/>
<text x="234.6" y="440.54" font-size="6.6" font-family="'Liberation Serif', 'Times New Roman', serif" text-anchor="middle" font-weight="normal" font-style="normal" fill="#111" stroke="#111" stroke-width="0.18">F</text>
<line x1="244.95" y1="451.93" x2="251.55" y2="440.47" stroke="#444" stroke-width="0.65"/>
<text x="252.8" y="440.54" font-size="6.6" font-family="'Liberation Serif', 'Times New Roman', serif" text-anchor="middle" font-weight="normal" font-style="normal" fill="#111" stroke="#111" stroke-width="0.18">F</text>
<line x1="242.62" y1="456.36" x2="237.78" y2="466.44" stroke="#444" stroke-width="0.65"/>
<text x="236.7" y="470.94" font-size="6.6" font-family="'Liberation Serif', 'Times New Roman', serif" text-anchor="middle" font-weight="normal" font-style="normal" fill="#111" stroke="#111" stroke-width="0.18">F</text>
<line x1="254.78" y1="464.84" x2="249.42" y2="475.56" stroke="#444" stroke-width="0.65"/>
<text x="248.3" y="480.04" font-size="6.6" font-family="'Liberation Serif', 'Times New Roman', serif" text-anchor="middle" font-weight="normal" font-style="normal" fill="#111" stroke="#111" stroke-width="0.18">F</text>
<line x1="256.95" y1="464.88" x2="261.85" y2="475.52" stroke="#444" stroke-width="0.65"/>
<text x="262.9" y="480.04" font-size="6.6" font-family="'Liberation Serif', 'Times New Roman', serif" text-anchor="middle" font-weight="normal" font-style="normal" fill="#111" stroke="#111" stroke-width="0.18">F</text>
<line x1="264.78" y1="451.86" x2="259.12" y2="440.54" stroke="#444" stroke-width="0.65"/>
<text x="258" y="440.54" font-size="6.6" font-family="'Liberation Serif', 'Times New Roman', serif" text-anchor="middle" font-weight="normal" font-style="normal" fill="#111" stroke="#111" stroke-width="0.18">F</text>
<line x1="266.83" y1="451.77" x2="271.07" y2="441.23" stroke="#444" stroke-width="0.65"/>
<text x="272" y="441.14" font-size="6.6" font-family="'Liberation Serif', 'Times New Roman', serif" text-anchor="middle" font-weight="normal" font-style="normal" fill="#111" stroke="#111" stroke-width="0.18">F</text>
<line x1="275" y1="464.41" x2="271.8" y2="475.39" stroke="#444" stroke-width="0.65"/>
<text x="271.1" y="480.04" font-size="6.6" font-family="'Liberation Serif', 'Times New Roman', serif" text-anchor="middle" font-weight="normal" font-style="normal" fill="#111" stroke="#111" stroke-width="0.18">F</text>
<line x1="276.51" y1="464.37" x2="280.29" y2="475.43" stroke="#444" stroke-width="0.65"/>
<text x="281.1" y="480.04" font-size="6.6" font-family="'Liberation Serif', 'Times New Roman', serif" text-anchor="middle" font-weight="normal" font-style="normal" fill="#111" stroke="#111" stroke-width="0.18">F</text>
<line x1="285.8" y1="451.04" x2="282.3" y2="434.06" stroke="#444" stroke-width="0.65"/>
<text x="281.8" y="433.84" font-size="6.6" font-family="'Liberation Serif', 'Times New Roman', serif" text-anchor="middle" font-weight="normal" font-style="normal" fill="#111" stroke="#111" stroke-width="0.18">F</text>
<line x1="287.49" y1="451.29" x2="293.31" y2="440.51" stroke="#444" stroke-width="0.65"/>
<text x="294.5" y="440.54" font-size="6.6" font-family="'Liberation Serif', 'Times New Roman', serif" text-anchor="middle" font-weight="normal" font-style="normal" fill="#111" stroke="#111" stroke-width="0.18">F</text>
<line x1="294.51" y1="464.34" x2="290.29" y2="475.46" stroke="#444" stroke-width="0.65"/>
<text x="289.4" y="480.04" font-size="6.6" font-family="'Liberation Serif', 'Times New Roman', serif" text-anchor="middle" font-weight="normal" font-style="normal" fill="#111" stroke="#111" stroke-width="0.18">F</text>
<line x1="296.1" y1="464.41" x2="299.3" y2="475.39" stroke="#444" stroke-width="0.65"/>
<text x="300" y="480.04" font-size="6.6" font-family="'Liberation Serif', 'Times New Roman', serif" text-anchor="middle" font-weight="normal" font-style="normal" fill="#111" stroke="#111" stroke-width="0.18">F</text>
<line x1="305.66" y1="450.43" x2="302.94" y2="435.27" stroke="#444" stroke-width="0.65"/>
<text x="302.5" y="435.04" font-size="6.6" font-family="'Liberation Serif', 'Times New Roman', serif" text-anchor="middle" font-weight="normal" font-style="normal" fill="#111" stroke="#111" stroke-width="0.18">F</text>
<line x1="306.93" y1="450.53" x2="311.97" y2="436.07" stroke="#444" stroke-width="0.65"/>
<text x="312.8" y="435.94" font-size="6.6" font-family="'Liberation Serif', 'Times New Roman', serif" text-anchor="middle" font-weight="normal" font-style="normal" fill="#111" stroke="#111" stroke-width="0.18">F</text>
<line x1="315.9" y1="460.34" x2="310.7" y2="473.96" stroke="#444" stroke-width="0.65"/>
<text x="309.8" y="478.54" font-size="6.6" font-family="'Liberation Serif', 'Times New Roman', serif" text-anchor="middle" font-weight="normal" font-style="normal" fill="#111" stroke="#111" stroke-width="0.18">F</text>
<line x1="317.28" y1="460.46" x2="320.22" y2="475.34" stroke="#444" stroke-width="0.65"/>
<text x="320.7" y="480.04" font-size="6.6" font-family="'Liberation Serif', 'Times New Roman', serif" text-anchor="middle" font-weight="normal" font-style="normal" fill="#111" stroke="#111" stroke-width="0.18">F</text>
<text x="243.7" y="456.34" font-size="6.6" font-family="'Liberation Serif', 'Times New Roman', serif" text-anchor="middle" font-weight="normal" font-style="normal" fill="#111" stroke="#111" stroke-width="0.18">C</text>
<text x="255.9" y="464.84" font-size="6.6" font-family="'Liberation Serif', 'Times New Roman', serif" text-anchor="middle" font-weight="normal" font-style="normal" fill="#111" stroke="#111" stroke-width="0.18">C</text>
<text x="265.9" y="456.34" font-size="6.6" font-family="'Liberation Serif', 'Times New Roman', serif" text-anchor="middle" font-weight="normal" font-style="normal" fill="#111" stroke="#111" stroke-width="0.18">C</text>
<text x="275.7" y="464.24" font-size="6.6" font-family="'Liberation Serif', 'Times New Roman', serif" text-anchor="middle" font-weight="normal" font-style="normal" fill="#111" stroke="#111" stroke-width="0.18">C</text>
<text x="286.3" y="455.74" font-size="6.6" font-family="'Liberation Serif', 'Times New Roman', serif" text-anchor="middle" font-weight="normal" font-style="normal" fill="#111" stroke="#111" stroke-width="0.18">C</text>
<text x="282.9" y="452.9" font-size="3.3" font-family="'Liberation Serif', 'Times New Roman', serif" text-anchor="middle" font-weight="normal" font-style="normal" fill="#111">13</text>
<text x="295.4" y="464.24" font-size="6.6" font-family="'Liberation Serif', 'Times New Roman', serif" text-anchor="middle" font-weight="normal" font-style="normal" fill="#111" stroke="#111" stroke-width="0.18">C</text>
<text x="292" y="461.4" font-size="3.3" font-family="'Liberation Serif', 'Times New Roman', serif" text-anchor="middle" font-weight="normal" font-style="normal" fill="#111">13</text>
<text x="306.1" y="455.14" font-size="6.6" font-family="'Liberation Serif', 'Times New Roman', serif" text-anchor="middle" font-weight="normal" font-style="normal" fill="#111" stroke="#111" stroke-width="0.18">C</text>
<text x="302.7" y="452.3" font-size="3.3" font-family="'Liberation Serif', 'Times New Roman', serif" text-anchor="middle" font-weight="normal" font-style="normal" fill="#111">13</text>
<text x="316.8" y="460.24" font-size="6.6" font-family="'Liberation Serif', 'Times New Roman', serif" text-anchor="middle" font-weight="normal" font-style="normal" fill="#111" stroke="#111" stroke-width="0.18">C</text>
<text x="313.4" y="457.4" font-size="3.3" font-family="'Liberation Serif', 'Times New Roman', serif" text-anchor="middle" font-weight="normal" font-style="normal" fill="#111">13</text>
<line x1="318.81" y1="456.69" x2="325.58" y2="452.27" stroke="#444" stroke-width="0.65"/>
<text x="325.6" y="454.6" font-size="6.6" font-family="'Liberation Serif', 'Times New Roman', serif" fill="#111" stroke="#111" stroke-width="0.1">SO<tspan font-size="4.4" dy="1.6">3</tspan><tspan font-size="4.4" dy="-5">-</tspan></text>
<path d="M318.3 445.9 L330.5 476.3" fill="none" stroke="#e5161d" stroke-width="1.4" stroke-dasharray="1.4 1.0"/>
<line x1="330.5" y1="476.3" x2="342.08" y2="476.3" stroke="#e5161d" stroke-width="1.3"/>
<path d="M345.6 476.3 L341.2 473.88 L341.2 478.72 Z" fill="#e5161d"/>
<text x="348" y="478.7" font-size="11.5" font-family="'Liberation Serif', 'Times New Roman', serif" fill="#7648bc" stroke="#7648bc" stroke-width="0.1" textLength="25.9" lengthAdjust="spacingAndGlyphs"><tspan font-style="italic">m/z</tspan> 80</text>
<text x="236.4" y="405.6" font-size="11.6" font-family="'Liberation Serif', 'Noto Sans CJK TC', serif" font-weight="bold" fill="#111" stroke="#111" stroke-width="0.1" textLength="72.2" lengthAdjust="spacingAndGlyphs">MPFOS, <tspan font-style="italic">m/z</tspan> 503<tspan font-family="'Noto Sans CJK SC', sans-serif" font-weight="normal" stroke-width="0">→</tspan>80</text>
<text x="236.4" y="424.2" font-size="11.4" font-family="'Liberation Serif', 'Times New Roman', serif" font-weight="bold" fill="#111" stroke="#111" stroke-width="0.1" textLength="61.9" lengthAdjust="spacingAndGlyphs">(product ion scan)</text>
<line x1="56" y1="289" x2="56" y2="371" stroke="#555" stroke-width="0.7"/>
<line x1="70.7" y1="299.7" x2="70.7" y2="371" stroke="#555" stroke-width="0.7"/>
<line x1="94.9" y1="344" x2="94.9" y2="371" stroke="#555" stroke-width="0.7"/>
<line x1="133.6" y1="346.5" x2="133.6" y2="371" stroke="#555" stroke-width="0.7"/>
<line x1="56" y1="431.3" x2="56" y2="496.4" stroke="#555" stroke-width="0.7"/>
<line x1="71.2" y1="481.5" x2="71.2" y2="496.4" stroke="#555" stroke-width="0.7"/>
<line x1="88.1" y1="493.5" x2="88.1" y2="496.4" stroke="#555" stroke-width="0.7"/>
<line x1="380.2" y1="313.7" x2="380.2" y2="371" stroke="#555" stroke-width="0.7"/>
<line x1="384.4" y1="459.8" x2="384.4" y2="496.4" stroke="#555" stroke-width="0.7"/>
<line x1="50.6" y1="118.2" x2="56.2" y2="118.2" stroke="#6cc46c" stroke-width="0.9"/>
<line x1="31.8" y1="242.4" x2="39.8" y2="242.4" stroke="#6cc46c" stroke-width="0.9"/>
<line x1="212.3" y1="242.4" x2="218" y2="242.4" stroke="#6cc46c" stroke-width="0.9"/>
<line x1="284" y1="242.4" x2="289.6" y2="242.4" stroke="#6cc46c" stroke-width="0.9"/>
<line x1="321" y1="242.4" x2="326" y2="242.4" stroke="#6cc46c" stroke-width="0.9"/>
<line x1="178" y1="370.2" x2="186" y2="370.2" stroke="#6cc46c" stroke-width="0.9"/>
<line x1="271" y1="370.2" x2="278" y2="370.2" stroke="#6cc46c" stroke-width="0.9"/>
<line x1="37" y1="495.6" x2="44" y2="495.6" stroke="#6cc46c" stroke-width="0.9"/>
<line x1="351" y1="495.6" x2="357" y2="495.6" stroke="#6cc46c" stroke-width="0.9"/>
<line x1="217" y1="495.6" x2="222" y2="495.6" stroke="#6cc46c" stroke-width="0.9"/>
<defs><filter id="wb" x="-20%" y="-20%" width="140%" height="140%"><feGaussianBlur stdDeviation="0.9"/></filter></defs>
<g filter="url(#wb)">
<polygon points="142,252 150,246 160,247 152,253" fill="#d9d9d9"/>
<polygon points="184,255 188,246 194,246 190,255" fill="#d9d9d9"/>
<polygon points="201,255 206,247 217,247 214,255" fill="#d9d9d9"/>
<polygon points="240,252 244,246 247,246 243,252" fill="#d9d9d9"/>
<polygon points="289,255 292,246 295,246 292,255" fill="#d9d9d9"/>
<polygon points="296,255 299,246 302,246 299,255" fill="#d9d9d9"/>
<polygon points="154,373 158,373 166,379 161,379" fill="#d9d9d9"/>
<polygon points="184,373 188,373 196,379 191,379" fill="#d9d9d9"/>
<polygon points="247,377 251,373 254,373 250,379" fill="#d9d9d9"/>
<polygon points="266,379 271,373 277,373 272,379" fill="#d9d9d9"/>
</g>
<text transform="translate(10.4 301.9) rotate(-90)" x="0" y="0" font-size="12" font-family="'Liberation Serif', 'Times New Roman', serif" font-weight="bold" fill="#111" textLength="124.7" lengthAdjust="spacingAndGlyphs">Relative Abundance</text>
<text x="199.1" y="545.7" font-size="11.8" font-family="'Liberation Serif', 'Times New Roman', serif" font-weight="bold" fill="#111" textLength="40.8" lengthAdjust="spacingAndGlyphs"><tspan font-style="italic">m/z</tspan>, amu</text>
</g>
</svg>
</body></html>
